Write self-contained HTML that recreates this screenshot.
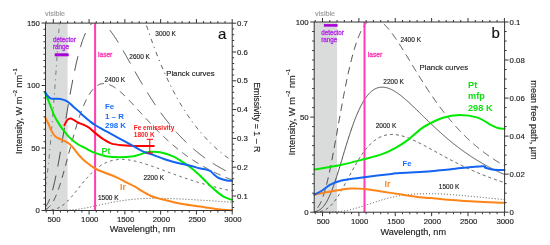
<!DOCTYPE html><html><head><meta charset="utf-8"><style>html,body{margin:0;padding:0;background:#fff;width:550px;height:245px;overflow:hidden}svg{display:block}text{font-family:"Liberation Sans",sans-serif}</style></head><body>
<div style="will-change:transform"><svg width="550" height="245" viewBox="0 0 550 245">
<defs><clipPath id="ca"><rect x="45.5" y="23.1" width="186.7" height="187.4"/></clipPath>
<clipPath id="cb"><rect x="314.2" y="22.0" width="190.40000000000003" height="190.2"/></clipPath></defs>
<rect x="45.5" y="23.1" width="22.11" height="187.4" fill="#dadcdc"/>
<g clip-path="url(#ca)" fill="none" stroke="#383838" stroke-width="0.9">
<path d="M45.5,186.45 L45.87,184.04 L46.25,181.5 L46.62,178.81 L46.99,175.97 L47.37,172.99 L47.74,169.87 L48.12,166.61 L48.49,163.21 L48.86,159.67 L49.24,156 L49.61,152.2 L49.98,148.28 L50.36,144.23 L50.73,140.06 L51.1,135.78 L51.48,131.39 L51.85,126.89 L52.23,122.3 L52.6,117.61 L52.97,112.84 L53.35,107.98 L53.72,103.05 L54.09,98.05 L54.47,92.99 L54.84,87.86 L55.21,82.69 L55.59,77.47 L55.96,72.21 L56.34,66.91 L56.71,61.59 L57.08,56.25 L57.46,50.89 L57.83,45.52 L58.2,40.15 L58.58,34.77 L58.95,29.4 L59.33,24.05 L59.57,20.49" stroke-dasharray="4.5 4 1.2 4.3" stroke="#707070"/><path d="M144.89,20.48 L145.26,21.64 L145.64,22.79 L146.01,23.94 L146.39,25.08 L146.76,26.22 L147.13,27.34 L147.51,28.46 L147.88,29.58 L148.25,30.68 L148.63,31.78 L149,32.88 L149.37,33.97 L149.75,35.05 L150.12,36.12 L150.5,37.19 L150.87,38.25 L151.24,39.3 L151.62,40.35 L151.99,41.39 L152.36,42.43 L152.74,43.46 L153.11,44.48 L153.48,45.49 L153.86,46.5 L154.23,47.51 L154.61,48.5 L154.98,49.49 L155.35,50.48 L155.73,51.46 L156.1,52.43 L156.47,53.39 L156.85,54.35 L157.22,55.31 L157.59,56.25 L157.97,57.19 L158.34,58.13 L158.72,59.06 L159.09,59.98 L159.46,60.9 L159.84,61.81 L160.21,62.71 L160.58,63.61 L160.96,64.51 L161.33,65.4 L161.7,66.28 L162.08,67.15 L162.45,68.03 L162.83,68.89 L163.2,69.75 L163.57,70.6 L163.95,71.45 L164.32,72.29 L164.69,73.13 L165.07,73.96 L165.44,74.79 L165.82,75.61 L166.19,76.42 L166.56,77.23 L166.94,78.04 L167.31,78.84 L167.68,79.63 L168.06,80.42 L168.43,81.2 L168.8,81.98 L169.18,82.76 L169.55,83.52 L169.93,84.29 L170.3,85.05 L170.67,85.8 L171.05,86.55 L171.42,87.29 L171.79,88.03 L172.17,88.76 L172.54,89.49 L172.91,90.21 L173.29,90.93 L173.66,91.64 L174.04,92.35 L174.41,93.06 L174.78,93.76 L175.16,94.45 L175.53,95.14 L175.9,95.83 L176.28,96.51 L176.65,97.18 L177.02,97.86 L177.4,98.52 L177.77,99.19 L178.15,99.85 L178.52,100.5 L178.89,101.15 L179.27,101.8 L179.64,102.44 L180.01,103.07 L180.39,103.71 L180.76,104.33 L181.13,104.96 L181.51,105.58 L181.88,106.19 L182.26,106.81 L182.63,107.41 L183,108.02 L183.38,108.62 L183.75,109.21 L184.12,109.8 L184.5,110.39 L184.87,110.98 L185.24,111.56 L185.62,112.13 L185.99,112.7 L186.37,113.27 L186.74,113.84 L187.11,114.4 L187.49,114.95 L187.86,115.51 L188.23,116.06 L188.61,116.6 L188.98,117.14 L189.35,117.68 L189.73,118.22 L190.1,118.75 L190.48,119.28 L190.85,119.8 L191.22,120.32 L191.6,120.84 L191.97,121.35 L192.34,121.87 L192.72,122.37 L193.09,122.88 L193.47,123.38 L193.84,123.87 L194.21,124.37 L194.59,124.86 L194.96,125.35 L195.33,125.83 L195.71,126.31 L196.08,126.79 L196.45,127.26 L196.83,127.73 L197.2,128.2 L197.58,128.67 L197.95,129.13 L198.32,129.59 L198.7,130.05 L199.07,130.5 L199.44,130.95 L199.82,131.4 L200.19,131.84 L200.56,132.28 L200.94,132.72 L201.31,133.16 L201.69,133.59 L202.06,134.02 L202.43,134.44 L202.81,134.87 L203.18,135.29 L203.55,135.71 L203.93,136.12 L204.3,136.54 L204.67,136.95 L205.05,137.36 L205.42,137.76 L205.8,138.16 L206.17,138.56 L206.54,138.96 L206.92,139.35 L207.29,139.75 L207.66,140.14 L208.04,140.52 L208.41,140.91 L208.78,141.29 L209.16,141.67 L209.53,142.05 L209.91,142.42 L210.28,142.79 L210.65,143.16 L211.03,143.53 L211.4,143.89 L211.77,144.26 L212.15,144.62 L212.52,144.97 L212.89,145.33 L213.27,145.68 L213.64,146.03 L214.02,146.38 L214.39,146.73 L214.76,147.07 L215.14,147.42 L215.51,147.76 L215.88,148.09 L216.26,148.43 L216.63,148.76 L217,149.09 L217.38,149.42 L217.75,149.75 L218.13,150.07 L218.5,150.4 L218.87,150.72 L219.25,151.04 L219.62,151.35 L219.99,151.67 L220.37,151.98 L220.74,152.29 L221.12,152.6 L221.49,152.91 L221.86,153.21 L222.24,153.52 L222.61,153.82 L222.98,154.12 L223.36,154.41 L223.73,154.71 L224.1,155 L224.48,155.29 L224.85,155.58 L225.23,155.87 L225.6,156.16 L225.97,156.44 L226.35,156.72 L226.72,157 L227.09,157.28 L227.47,157.56 L227.84,157.84 L228.21,158.11 L228.59,158.38 L228.96,158.65 L229.34,158.92 L229.71,159.19 L230.08,159.45 L230.46,159.72 L230.83,159.98 L231.2,160.24 L231.58,160.5 L231.95,160.76 L232.2,160.93" stroke-dasharray="4.5 4 1.2 4.3" stroke-dashoffset="8.62"/>
<path d="M45.5,206.87 L45.87,206.41 L46.25,205.9 L46.62,205.36 L46.99,204.77 L47.37,204.13 L47.74,203.45 L48.12,202.72 L48.49,201.94 L48.86,201.11 L49.24,200.23 L49.61,199.3 L49.98,198.32 L50.36,197.28 L50.73,196.2 L51.1,195.06 L51.48,193.86 L51.85,192.62 L52.23,191.32 L52.6,189.97 L52.97,188.57 L53.35,187.12 L53.72,185.62 L54.09,184.07 L54.47,182.48 L54.84,180.84 L55.21,179.15 L55.59,177.42 L55.96,175.64 L56.34,173.83 L56.71,171.97 L57.08,170.08 L57.46,168.15 L57.83,166.18 L58.2,164.19 L58.58,162.16 L58.95,160.1 L59.33,158.02 L59.7,155.91 L60.07,153.77 L60.45,151.62 L60.82,149.45 L61.19,147.25 L61.57,145.05 L61.94,142.82 L62.31,140.59 L62.69,138.35 L63.06,136.1 L63.44,133.84 L63.81,131.57 L64.18,129.31 L64.56,127.04 L64.93,124.78 L65.3,122.51 L65.68,120.25 L66.05,118 L66.42,115.75 L66.8,113.51 L67.17,111.29 L67.55,109.07 L67.92,106.87 L68.29,104.68 L68.67,102.51 L69.04,100.35 L69.41,98.21 L69.79,96.09 L70.16,93.99 L70.53,91.92 L70.91,89.86 L71.28,87.83 L71.66,85.82 L72.03,83.84 L72.4,81.88 L72.78,79.96 L73.15,78.05 L73.52,76.18 L73.9,74.33 L74.27,72.52 L74.64,70.73 L75.02,68.98 L75.39,67.25 L75.77,65.56 L76.14,63.9 L76.51,62.27 L76.89,60.67 L77.26,59.1 L77.63,57.57 L78.01,56.07 L78.38,54.6 L78.75,53.17 L79.13,51.77 L79.5,50.4 L79.88,49.07 L80.25,47.77 L80.62,46.51 L81,45.28 L81.37,44.08 L81.74,42.91 L82.12,41.78 L82.49,40.68 L82.86,39.62 L83.24,38.59 L83.61,37.59 L83.99,36.62 L84.36,35.69 L84.73,34.79 L85.11,33.92 L85.48,33.08 L85.85,32.27 L86.23,31.5 L86.6,30.75 L86.98,30.04 L87.35,29.36 L87.72,28.7 L88.1,28.08 L88.47,27.49 L88.84,26.92 L89.22,26.39 L89.59,25.88 L89.96,25.4 L90.34,24.95 L90.71,24.52 L91.09,24.12 L91.46,23.75 L91.83,23.41 L92.21,23.09 L92.58,22.79 L92.95,22.52 L93.33,22.28 L93.7,22.06 L94.07,21.86 L94.45,21.69 L94.82,21.54 L95.2,21.41 L95.57,21.3 L95.94,21.22 L96.32,21.16 L96.69,21.11 L97.06,21.09 L97.44,21.09 L97.81,21.11 L98.18,21.15 L98.56,21.21 L98.93,21.29 L99.31,21.38 L99.68,21.5 L100.05,21.63 L100.43,21.77 L100.8,21.94 L101.17,22.12 L101.55,22.32 L101.92,22.53 L102.29,22.76 L102.67,23 L103.04,23.26 L103.42,23.54 L103.79,23.82 L104.16,24.12 L104.54,24.44 L104.91,24.77 L105.28,25.11 L105.66,25.46 L106.03,25.82 L106.4,26.2 L106.78,26.59 L107.15,26.99 L107.53,27.4 L107.9,27.82 L108.27,28.25 L108.65,28.69 L109.02,29.14 L109.39,29.6 L109.77,30.07 L110.14,30.55 L110.51,31.04 L110.89,31.52 L111.26,32.01 L111.64,32.52 L112.01,33.02 L112.38,33.54 L112.76,34.06 L113.13,34.59 L113.5,35.13 L113.88,35.67 L114.25,36.22 L114.63,36.78 L115,37.34 L115.37,37.9 L115.75,38.48 L116.12,39.06 L116.49,39.64 L116.87,40.23 L117.24,40.82 L117.61,41.42 L117.99,42.02 L118.36,42.63 L118.74,43.23 L119.11,43.85 L119.48,44.47 L119.86,45.09 L120.23,45.71 L120.6,46.34 L120.98,46.97 L121.35,47.6 L121.72,48.24 L122.1,48.88 L122.47,49.52 L122.85,50.16 L123.22,50.81 L123.59,51.46 L123.97,52.1 L124.34,52.76 L124.71,53.41 L125.09,54.06 L125.46,54.72 L125.83,55.38 L126.21,56.03 L126.58,56.69 L126.96,57.35 L127.33,58.02 L127.7,58.68 L128.08,59.34 L128.45,60 L128.82,60.67 L129.2,61.33 L129.57,61.99 L129.94,62.66 L130.32,63.32 L130.69,63.99 L131.07,64.65 L131.44,65.31 L131.81,65.98 L132.19,66.64 L132.56,67.3 L132.93,67.97 L133.31,68.63 L133.68,69.29 L134.05,69.95 L134.43,70.61 L134.8,71.27 L135.18,71.93 L135.55,72.58 L135.92,73.24 L136.3,73.89 L136.67,74.55 L137.04,75.2 L137.42,75.85 L137.79,76.5 L138.16,77.15 L138.54,77.8 L138.91,78.44 L139.29,79.09 L139.66,79.73 L140.03,80.37 L140.41,81.01 L140.78,81.65 L141.15,82.29 L141.53,82.92 L141.9,83.56 L142.28,84.19 L142.65,84.82 L143.02,85.44 L143.4,86.07 L143.77,86.69 L144.14,87.32 L144.52,87.94 L144.89,88.55 L145.26,89.17 L145.64,89.78 L146.01,90.39 L146.39,91 L146.76,91.61 L147.13,92.22 L147.51,92.82 L147.88,93.42 L148.25,94.02 L148.63,94.62 L149,95.21 L149.37,95.8 L149.75,96.39 L150.12,96.98 L150.5,97.56 L150.87,98.15 L151.24,98.73 L151.62,99.31 L151.99,99.88 L152.36,100.45 L152.74,101.03 L153.11,101.59 L153.48,102.16 L153.86,102.72 L154.23,103.28 L154.61,103.84 L154.98,104.4 L155.35,104.95 L155.73,105.51 L156.1,106.05 L156.47,106.6 L156.85,107.14 L157.22,107.69 L157.59,108.23 L157.97,108.76 L158.34,109.3 L158.72,109.83 L159.09,110.36 L159.46,110.88 L159.84,111.41 L160.21,111.93 L160.58,112.45 L160.96,112.97 L161.33,113.48 L161.7,113.99 L162.08,114.5 L162.45,115.01 L162.83,115.51 L163.2,116.01 L163.57,116.51 L163.95,117.01 L164.32,117.5 L164.69,117.99 L165.07,118.48 L165.44,118.97 L165.82,119.46 L166.19,119.94 L166.56,120.42 L166.94,120.89 L167.31,121.37 L167.68,121.84 L168.06,122.31 L168.43,122.78 L168.8,123.24 L169.18,123.7 L169.55,124.16 L169.93,124.62 L170.3,125.08 L170.67,125.53 L171.05,125.98 L171.42,126.43 L171.79,126.87 L172.17,127.32 L172.54,127.76 L172.91,128.19 L173.29,128.63 L173.66,129.06 L174.04,129.5 L174.41,129.92 L174.78,130.35 L175.16,130.78 L175.53,131.2 L175.9,131.62 L176.28,132.03 L176.65,132.45 L177.02,132.86 L177.4,133.27 L177.77,133.68 L178.15,134.09 L178.52,134.49 L178.89,134.89 L179.27,135.29 L179.64,135.69 L180.01,136.09 L180.39,136.48 L180.76,136.87 L181.13,137.26 L181.51,137.64 L181.88,138.03 L182.26,138.41 L182.63,138.79 L183,139.17 L183.38,139.54 L183.75,139.92 L184.12,140.29 L184.5,140.66 L184.87,141.02 L185.24,141.39 L185.62,141.75 L185.99,142.11 L186.37,142.47 L186.74,142.83 L187.11,143.18 L187.49,143.54 L187.86,143.89 L188.23,144.24 L188.61,144.58 L188.98,144.93 L189.35,145.27 L189.73,145.61 L190.1,145.95 L190.48,146.29 L190.85,146.62 L191.22,146.96 L191.6,147.29 L191.97,147.62 L192.34,147.94 L192.72,148.27 L193.09,148.59 L193.47,148.92 L193.84,149.24 L194.21,149.55 L194.59,149.87 L194.96,150.19 L195.33,150.5 L195.71,150.81 L196.08,151.12 L196.45,151.43 L196.83,151.73 L197.2,152.04 L197.58,152.34 L197.95,152.64 L198.32,152.94 L198.7,153.23 L199.07,153.53 L199.44,153.82 L199.82,154.11 L200.19,154.4 L200.56,154.69 L200.94,154.98 L201.31,155.26 L201.69,155.55 L202.06,155.83 L202.43,156.11 L202.81,156.39 L203.18,156.67 L203.55,156.94 L203.93,157.21 L204.3,157.49 L204.67,157.76 L205.05,158.03 L205.42,158.29 L205.8,158.56 L206.17,158.82 L206.54,159.09 L206.92,159.35 L207.29,159.61 L207.66,159.87 L208.04,160.12 L208.41,160.38 L208.78,160.63 L209.16,160.88 L209.53,161.14 L209.91,161.39 L210.28,161.63 L210.65,161.88 L211.03,162.13 L211.4,162.37 L211.77,162.61 L212.15,162.85 L212.52,163.09 L212.89,163.33 L213.27,163.57 L213.64,163.8 L214.02,164.04 L214.39,164.27 L214.76,164.5 L215.14,164.73 L215.51,164.96 L215.88,165.19 L216.26,165.41 L216.63,165.64 L217,165.86 L217.38,166.08 L217.75,166.3 L218.13,166.52 L218.5,166.74 L218.87,166.96 L219.25,167.17 L219.62,167.39 L219.99,167.6 L220.37,167.81 L220.74,168.03 L221.12,168.24 L221.49,168.44 L221.86,168.65 L222.24,168.86 L222.61,169.06 L222.98,169.27 L223.36,169.47 L223.73,169.67 L224.1,169.87 L224.48,170.07 L224.85,170.27 L225.23,170.46 L225.6,170.66 L225.97,170.85 L226.35,171.05 L226.72,171.24 L227.09,171.43 L227.47,171.62 L227.84,171.81 L228.21,172 L228.59,172.19 L228.96,172.37 L229.34,172.56 L229.71,172.74 L230.08,172.92 L230.46,173.11 L230.83,173.29 L231.2,173.47 L231.58,173.64 L231.95,173.82 L232.2,173.94" stroke-dasharray="15 9.3" stroke-dashoffset="6.11"/>
<path d="M45.5,209.38 L45.87,209.22 L46.25,209.04 L46.62,208.85 L46.99,208.63 L47.37,208.39 L47.74,208.13 L48.12,207.85 L48.49,207.55 L48.86,207.22 L49.24,206.87 L49.61,206.49 L49.98,206.09 L50.36,205.66 L50.73,205.2 L51.1,204.72 L51.48,204.2 L51.85,203.66 L52.23,203.09 L52.6,202.49 L52.97,201.85 L53.35,201.19 L53.72,200.5 L54.09,199.78 L54.47,199.03 L54.84,198.24 L55.21,197.43 L55.59,196.59 L55.96,195.72 L56.34,194.82 L56.71,193.9 L57.08,192.94 L57.46,191.96 L57.83,190.95 L58.2,189.92 L58.58,188.86 L58.95,187.77 L59.33,186.66 L59.7,185.53 L60.07,184.38 L60.45,183.2 L60.82,182 L61.19,180.79 L61.57,179.55 L61.94,178.3 L62.31,177.03 L62.69,175.75 L63.06,174.45 L63.44,173.13 L63.81,171.81 L64.18,170.47 L64.56,169.12 L64.93,167.76 L65.3,166.39 L65.68,165.02 L66.05,163.64 L66.42,162.25 L66.8,160.85 L67.17,159.46 L67.55,158.06 L67.92,156.66 L68.29,155.26 L68.67,153.85 L69.04,152.45 L69.41,151.05 L69.79,149.66 L70.16,148.26 L70.53,146.87 L70.91,145.49 L71.28,144.11 L71.66,142.74 L72.03,141.37 L72.4,140.02 L72.78,138.67 L73.15,137.33 L73.52,136 L73.9,134.69 L74.27,133.38 L74.64,132.09 L75.02,130.8 L75.39,129.53 L75.77,128.28 L76.14,127.04 L76.51,125.81 L76.89,124.59 L77.26,123.4 L77.63,122.21 L78.01,121.05 L78.38,119.9 L78.75,118.76 L79.13,117.65 L79.5,116.55 L79.88,115.46 L80.25,114.4 L80.62,113.35 L81,112.32 L81.37,111.31 L81.74,110.32 L82.12,109.35 L82.49,108.39 L82.86,107.46 L83.24,106.54 L83.61,105.64 L83.99,104.76 L84.36,103.9 L84.73,103.06 L85.11,102.24 L85.48,101.44 L85.85,100.65 L86.23,99.89 L86.6,99.14 L86.98,98.42 L87.35,97.71 L87.72,97.02 L88.1,96.35 L88.47,95.7 L88.84,95.07 L89.22,94.46 L89.59,93.87 L89.96,93.29 L90.34,92.74 L90.71,92.2 L91.09,91.68 L91.46,91.17 L91.83,90.69 L92.21,90.22 L92.58,89.77 L92.95,89.34 L93.33,88.93 L93.7,88.53 L94.07,88.15 L94.45,87.79 L94.82,87.44 L95.2,87.11 L95.57,86.79 L95.94,86.49 L96.32,86.21 L96.69,85.94 L97.06,85.69 L97.44,85.46 L97.81,85.23 L98.18,85.03 L98.56,84.83 L98.93,84.66 L99.31,84.49 L99.68,84.34 L100.05,84.21 L100.43,84.09 L100.8,83.98 L101.17,83.88 L101.55,83.8 L101.92,83.73 L102.29,83.67 L102.67,83.63 L103.04,83.59 L103.42,83.57 L103.79,83.56 L104.16,83.57 L104.54,83.58 L104.91,83.6 L105.28,83.64 L105.66,83.69 L106.03,83.74 L106.4,83.81 L106.78,83.89 L107.15,83.97 L107.53,84.07 L107.9,84.18 L108.27,84.29 L108.65,84.42 L109.02,84.55 L109.39,84.7 L109.77,84.85 L110.14,85.01 L110.51,85.17 L110.89,85.34 L111.26,85.52 L111.64,85.7 L112.01,85.89 L112.38,86.09 L112.76,86.3 L113.13,86.51 L113.5,86.73 L113.88,86.96 L114.25,87.19 L114.63,87.43 L115,87.67 L115.37,87.93 L115.75,88.18 L116.12,88.45 L116.49,88.72 L116.87,88.99 L117.24,89.27 L117.61,89.56 L117.99,89.85 L118.36,90.14 L118.74,90.44 L119.11,90.75 L119.48,91.06 L119.86,91.37 L120.23,91.69 L120.6,92.01 L120.98,92.34 L121.35,92.67 L121.72,93 L122.1,93.34 L122.47,93.68 L122.85,94.03 L123.22,94.38 L123.59,94.73 L123.97,95.08 L124.34,95.44 L124.71,95.8 L125.09,96.16 L125.46,96.53 L125.83,96.9 L126.21,97.27 L126.58,97.65 L126.96,98.02 L127.33,98.4 L127.7,98.78 L128.08,99.16 L128.45,99.55 L128.82,99.93 L129.2,100.32 L129.57,100.71 L129.94,101.1 L130.32,101.5 L130.69,101.89 L131.07,102.29 L131.44,102.69 L131.81,103.08 L132.19,103.48 L132.56,103.89 L132.93,104.29 L133.31,104.69 L133.68,105.1 L134.05,105.5 L134.43,105.91 L134.8,106.31 L135.18,106.72 L135.55,107.13 L135.92,107.54 L136.3,107.94 L136.67,108.35 L137.04,108.76 L137.42,109.17 L137.79,109.58 L138.16,109.99 L138.54,110.41 L138.91,110.82 L139.29,111.23 L139.66,111.64 L140.03,112.05 L140.41,112.46 L140.78,112.87 L141.15,113.28 L141.53,113.69 L141.9,114.1 L142.28,114.51 L142.65,114.92 L143.02,115.33 L143.4,115.74 L143.77,116.15 L144.14,116.56 L144.52,116.97 L144.89,117.37 L145.26,117.78 L145.64,118.19 L146.01,118.59 L146.39,119 L146.76,119.4 L147.13,119.81 L147.51,120.21 L147.88,120.61 L148.25,121.01 L148.63,121.41 L149,121.81 L149.37,122.21 L149.75,122.61 L150.12,123.01 L150.5,123.41 L150.87,123.8 L151.24,124.2 L151.62,124.59 L151.99,124.98 L152.36,125.37 L152.74,125.76 L153.11,126.15 L153.48,126.54 L153.86,126.93 L154.23,127.32 L154.61,127.7 L154.98,128.09 L155.35,128.47 L155.73,128.85 L156.1,129.23 L156.47,129.61 L156.85,129.99 L157.22,130.37 L157.59,130.74 L157.97,131.12 L158.34,131.49 L158.72,131.86 L159.09,132.23 L159.46,132.6 L159.84,132.97 L160.21,133.34 L160.58,133.7 L160.96,134.07 L161.33,134.43 L161.7,134.79 L162.08,135.15 L162.45,135.51 L162.83,135.87 L163.2,136.23 L163.57,136.58 L163.95,136.93 L164.32,137.29 L164.69,137.64 L165.07,137.99 L165.44,138.33 L165.82,138.68 L166.19,139.03 L166.56,139.37 L166.94,139.71 L167.31,140.05 L167.68,140.39 L168.06,140.73 L168.43,141.07 L168.8,141.41 L169.18,141.74 L169.55,142.07 L169.93,142.4 L170.3,142.73 L170.67,143.06 L171.05,143.39 L171.42,143.71 L171.79,144.04 L172.17,144.36 L172.54,144.68 L172.91,145 L173.29,145.32 L173.66,145.64 L174.04,145.95 L174.41,146.27 L174.78,146.58 L175.16,146.89 L175.53,147.2 L175.9,147.51 L176.28,147.82 L176.65,148.12 L177.02,148.43 L177.4,148.73 L177.77,149.03 L178.15,149.33 L178.52,149.63 L178.89,149.93 L179.27,150.22 L179.64,150.52 L180.01,150.81 L180.39,151.1 L180.76,151.39 L181.13,151.68 L181.51,151.97 L181.88,152.25 L182.26,152.54 L182.63,152.82 L183,153.1 L183.38,153.38 L183.75,153.66 L184.12,153.94 L184.5,154.22 L184.87,154.49 L185.24,154.77 L185.62,155.04 L185.99,155.31 L186.37,155.58 L186.74,155.85 L187.11,156.12 L187.49,156.38 L187.86,156.65 L188.23,156.91 L188.61,157.17 L188.98,157.43 L189.35,157.69 L189.73,157.95 L190.1,158.2 L190.48,158.46 L190.85,158.71 L191.22,158.97 L191.6,159.22 L191.97,159.47 L192.34,159.72 L192.72,159.96 L193.09,160.21 L193.47,160.45 L193.84,160.7 L194.21,160.94 L194.59,161.18 L194.96,161.42 L195.33,161.66 L195.71,161.9 L196.08,162.13 L196.45,162.37 L196.83,162.6 L197.2,162.83 L197.58,163.07 L197.95,163.3 L198.32,163.53 L198.7,163.75 L199.07,163.98 L199.44,164.21 L199.82,164.43 L200.19,164.65 L200.56,164.87 L200.94,165.1 L201.31,165.31 L201.69,165.53 L202.06,165.75 L202.43,165.97 L202.81,166.18 L203.18,166.4 L203.55,166.61 L203.93,166.82 L204.3,167.03 L204.67,167.24 L205.05,167.45 L205.42,167.66 L205.8,167.86 L206.17,168.07 L206.54,168.27 L206.92,168.47 L207.29,168.68 L207.66,168.88 L208.04,169.08 L208.41,169.27 L208.78,169.47 L209.16,169.67 L209.53,169.86 L209.91,170.06 L210.28,170.25 L210.65,170.44 L211.03,170.64 L211.4,170.83 L211.77,171.02 L212.15,171.2 L212.52,171.39 L212.89,171.58 L213.27,171.76 L213.64,171.95 L214.02,172.13 L214.39,172.31 L214.76,172.49 L215.14,172.67 L215.51,172.85 L215.88,173.03 L216.26,173.21 L216.63,173.39 L217,173.56 L217.38,173.74 L217.75,173.91 L218.13,174.08 L218.5,174.26 L218.87,174.43 L219.25,174.6 L219.62,174.77 L219.99,174.93 L220.37,175.1 L220.74,175.27 L221.12,175.43 L221.49,175.6 L221.86,175.76 L222.24,175.93 L222.61,176.09 L222.98,176.25 L223.36,176.41 L223.73,176.57 L224.1,176.73 L224.48,176.89 L224.85,177.04 L225.23,177.2 L225.6,177.35 L225.97,177.51 L226.35,177.66 L226.72,177.81 L227.09,177.97 L227.47,178.12 L227.84,178.27 L228.21,178.42 L228.59,178.57 L228.96,178.71 L229.34,178.86 L229.71,179.01 L230.08,179.15 L230.46,179.3 L230.83,179.44 L231.2,179.59 L231.58,179.73 L231.95,179.87 L232.2,179.96" stroke-dasharray="7 5.5" stroke-dashoffset="0.79"/>
<path d="M45.5,210.45 L45.87,210.44 L46.25,210.43 L46.62,210.41 L46.99,210.4 L47.37,210.38 L47.74,210.36 L48.12,210.34 L48.49,210.32 L48.86,210.29 L49.24,210.26 L49.61,210.22 L49.98,210.19 L50.36,210.14 L50.73,210.1 L51.1,210.05 L51.48,210 L51.85,209.94 L52.23,209.87 L52.6,209.81 L52.97,209.73 L53.35,209.65 L53.72,209.56 L54.09,209.47 L54.47,209.37 L54.84,209.27 L55.21,209.16 L55.59,209.04 L55.96,208.91 L56.34,208.78 L56.71,208.64 L57.08,208.49 L57.46,208.34 L57.83,208.17 L58.2,208 L58.58,207.82 L58.95,207.63 L59.33,207.44 L59.7,207.23 L60.07,207.02 L60.45,206.8 L60.82,206.57 L61.19,206.33 L61.57,206.09 L61.94,205.83 L62.31,205.57 L62.69,205.3 L63.06,205.02 L63.44,204.73 L63.81,204.44 L64.18,204.13 L64.56,203.82 L64.93,203.5 L65.3,203.17 L65.68,202.84 L66.05,202.5 L66.42,202.15 L66.8,201.79 L67.17,201.43 L67.55,201.06 L67.92,200.69 L68.29,200.3 L68.67,199.91 L69.04,199.52 L69.41,199.12 L69.79,198.71 L70.16,198.3 L70.53,197.89 L70.91,197.47 L71.28,197.04 L71.66,196.61 L72.03,196.18 L72.4,195.74 L72.78,195.3 L73.15,194.85 L73.52,194.4 L73.9,193.95 L74.27,193.5 L74.64,193.04 L75.02,192.58 L75.39,192.12 L75.77,191.66 L76.14,191.19 L76.51,190.72 L76.89,190.26 L77.26,189.79 L77.63,189.32 L78.01,188.85 L78.38,188.38 L78.75,187.91 L79.13,187.44 L79.5,186.97 L79.88,186.5 L80.25,186.04 L80.62,185.57 L81,185.1 L81.37,184.64 L81.74,184.18 L82.12,183.72 L82.49,183.26 L82.86,182.8 L83.24,182.35 L83.61,181.89 L83.99,181.44 L84.36,181 L84.73,180.55 L85.11,180.11 L85.48,179.67 L85.85,179.24 L86.23,178.8 L86.6,178.38 L86.98,177.95 L87.35,177.53 L87.72,177.11 L88.1,176.7 L88.47,176.29 L88.84,175.89 L89.22,175.49 L89.59,175.09 L89.96,174.7 L90.34,174.31 L90.71,173.93 L91.09,173.55 L91.46,173.18 L91.83,172.81 L92.21,172.44 L92.58,172.08 L92.95,171.73 L93.33,171.38 L93.7,171.04 L94.07,170.7 L94.45,170.36 L94.82,170.04 L95.2,169.71 L95.57,169.39 L95.94,169.08 L96.32,168.77 L96.69,168.47 L97.06,168.17 L97.44,167.88 L97.81,167.6 L98.18,167.32 L98.56,167.04 L98.93,166.77 L99.31,166.51 L99.68,166.25 L100.05,165.99 L100.43,165.74 L100.8,165.5 L101.17,165.26 L101.55,165.03 L101.92,164.8 L102.29,164.58 L102.67,164.36 L103.04,164.15 L103.42,163.94 L103.79,163.74 L104.16,163.55 L104.54,163.35 L104.91,163.17 L105.28,162.99 L105.66,162.81 L106.03,162.64 L106.4,162.48 L106.78,162.32 L107.15,162.16 L107.53,162.01 L107.9,161.86 L108.27,161.72 L108.65,161.59 L109.02,161.45 L109.39,161.33 L109.77,161.2 L110.14,161.09 L110.51,160.97 L110.89,160.86 L111.26,160.76 L111.64,160.65 L112.01,160.55 L112.38,160.46 L112.76,160.37 L113.13,160.29 L113.5,160.2 L113.88,160.13 L114.25,160.05 L114.63,159.99 L115,159.92 L115.37,159.86 L115.75,159.8 L116.12,159.75 L116.49,159.7 L116.87,159.66 L117.24,159.61 L117.61,159.58 L117.99,159.54 L118.36,159.51 L118.74,159.48 L119.11,159.46 L119.48,159.44 L119.86,159.42 L120.23,159.41 L120.6,159.4 L120.98,159.39 L121.35,159.39 L121.72,159.39 L122.1,159.39 L122.47,159.4 L122.85,159.41 L123.22,159.42 L123.59,159.44 L123.97,159.45 L124.34,159.47 L124.71,159.5 L125.09,159.52 L125.46,159.55 L125.83,159.58 L126.21,159.62 L126.58,159.66 L126.96,159.7 L127.33,159.74 L127.7,159.78 L128.08,159.83 L128.45,159.88 L128.82,159.93 L129.2,159.98 L129.57,160.04 L129.94,160.1 L130.32,160.16 L130.69,160.22 L131.07,160.29 L131.44,160.35 L131.81,160.42 L132.19,160.49 L132.56,160.57 L132.93,160.64 L133.31,160.72 L133.68,160.79 L134.05,160.87 L134.43,160.96 L134.8,161.04 L135.18,161.13 L135.55,161.21 L135.92,161.3 L136.3,161.39 L136.67,161.48 L137.04,161.58 L137.42,161.67 L137.79,161.77 L138.16,161.86 L138.54,161.96 L138.91,162.06 L139.29,162.17 L139.66,162.27 L140.03,162.37 L140.41,162.48 L140.78,162.58 L141.15,162.69 L141.53,162.8 L141.9,162.91 L142.28,163.02 L142.65,163.13 L143.02,163.25 L143.4,163.36 L143.77,163.48 L144.14,163.59 L144.52,163.71 L144.89,163.83 L145.26,163.95 L145.64,164.07 L146.01,164.19 L146.39,164.31 L146.76,164.43 L147.13,164.55 L147.51,164.68 L147.88,164.8 L148.25,164.93 L148.63,165.05 L149,165.18 L149.37,165.31 L149.75,165.43 L150.12,165.56 L150.5,165.69 L150.87,165.82 L151.24,165.95 L151.62,166.08 L151.99,166.21 L152.36,166.34 L152.74,166.47 L153.11,166.6 L153.48,166.74 L153.86,166.87 L154.23,167 L154.61,167.14 L154.98,167.27 L155.35,167.4 L155.73,167.54 L156.1,167.67 L156.47,167.81 L156.85,167.94 L157.22,168.08 L157.59,168.22 L157.97,168.35 L158.34,168.49 L158.72,168.63 L159.09,168.76 L159.46,168.9 L159.84,169.04 L160.21,169.17 L160.58,169.31 L160.96,169.45 L161.33,169.59 L161.7,169.72 L162.08,169.86 L162.45,170 L162.83,170.14 L163.2,170.27 L163.57,170.41 L163.95,170.55 L164.32,170.69 L164.69,170.82 L165.07,170.96 L165.44,171.1 L165.82,171.24 L166.19,171.38 L166.56,171.51 L166.94,171.65 L167.31,171.79 L167.68,171.93 L168.06,172.06 L168.43,172.2 L168.8,172.34 L169.18,172.48 L169.55,172.61 L169.93,172.75 L170.3,172.89 L170.67,173.02 L171.05,173.16 L171.42,173.29 L171.79,173.43 L172.17,173.57 L172.54,173.7 L172.91,173.84 L173.29,173.97 L173.66,174.11 L174.04,174.24 L174.41,174.38 L174.78,174.51 L175.16,174.65 L175.53,174.78 L175.9,174.91 L176.28,175.05 L176.65,175.18 L177.02,175.31 L177.4,175.45 L177.77,175.58 L178.15,175.71 L178.52,175.84 L178.89,175.98 L179.27,176.11 L179.64,176.24 L180.01,176.37 L180.39,176.5 L180.76,176.63 L181.13,176.76 L181.51,176.89 L181.88,177.02 L182.26,177.15 L182.63,177.28 L183,177.4 L183.38,177.53 L183.75,177.66 L184.12,177.79 L184.5,177.91 L184.87,178.04 L185.24,178.17 L185.62,178.29 L185.99,178.42 L186.37,178.55 L186.74,178.67 L187.11,178.79 L187.49,178.92 L187.86,179.04 L188.23,179.17 L188.61,179.29 L188.98,179.41 L189.35,179.54 L189.73,179.66 L190.1,179.78 L190.48,179.9 L190.85,180.02 L191.22,180.14 L191.6,180.26 L191.97,180.38 L192.34,180.5 L192.72,180.62 L193.09,180.74 L193.47,180.86 L193.84,180.98 L194.21,181.1 L194.59,181.21 L194.96,181.33 L195.33,181.45 L195.71,181.56 L196.08,181.68 L196.45,181.79 L196.83,181.91 L197.2,182.02 L197.58,182.14 L197.95,182.25 L198.32,182.36 L198.7,182.48 L199.07,182.59 L199.44,182.7 L199.82,182.81 L200.19,182.93 L200.56,183.04 L200.94,183.15 L201.31,183.26 L201.69,183.37 L202.06,183.48 L202.43,183.59 L202.81,183.69 L203.18,183.8 L203.55,183.91 L203.93,184.02 L204.3,184.12 L204.67,184.23 L205.05,184.34 L205.42,184.44 L205.8,184.55 L206.17,184.65 L206.54,184.76 L206.92,184.86 L207.29,184.97 L207.66,185.07 L208.04,185.17 L208.41,185.28 L208.78,185.38 L209.16,185.48 L209.53,185.58 L209.91,185.68 L210.28,185.78 L210.65,185.88 L211.03,185.98 L211.4,186.08 L211.77,186.18 L212.15,186.28 L212.52,186.38 L212.89,186.48 L213.27,186.58 L213.64,186.67 L214.02,186.77 L214.39,186.87 L214.76,186.96 L215.14,187.06 L215.51,187.15 L215.88,187.25 L216.26,187.34 L216.63,187.44 L217,187.53 L217.38,187.62 L217.75,187.72 L218.13,187.81 L218.5,187.9 L218.87,187.99 L219.25,188.08 L219.62,188.18 L219.99,188.27 L220.37,188.36 L220.74,188.45 L221.12,188.54 L221.49,188.63 L221.86,188.71 L222.24,188.8 L222.61,188.89 L222.98,188.98 L223.36,189.07 L223.73,189.15 L224.1,189.24 L224.48,189.33 L224.85,189.41 L225.23,189.5 L225.6,189.58 L225.97,189.67 L226.35,189.75 L226.72,189.84 L227.09,189.92 L227.47,190 L227.84,190.09 L228.21,190.17 L228.59,190.25 L228.96,190.33 L229.34,190.41 L229.71,190.5 L230.08,190.58 L230.46,190.66 L230.83,190.74 L231.2,190.82 L231.58,190.9 L231.95,190.98 L232.2,191.03" stroke-dasharray="2.5 3.5"/>
<path d="M45.5,210.5 L45.87,210.5 L46.25,210.5 L46.62,210.5 L46.99,210.5 L47.37,210.5 L47.74,210.5 L48.12,210.5 L48.49,210.5 L48.86,210.5 L49.24,210.5 L49.61,210.5 L49.98,210.5 L50.36,210.5 L50.73,210.5 L51.1,210.5 L51.48,210.5 L51.85,210.5 L52.23,210.5 L52.6,210.49 L52.97,210.49 L53.35,210.49 L53.72,210.49 L54.09,210.49 L54.47,210.49 L54.84,210.49 L55.21,210.49 L55.59,210.48 L55.96,210.48 L56.34,210.48 L56.71,210.48 L57.08,210.47 L57.46,210.47 L57.83,210.47 L58.2,210.46 L58.58,210.46 L58.95,210.45 L59.33,210.45 L59.7,210.44 L60.07,210.44 L60.45,210.43 L60.82,210.43 L61.19,210.42 L61.57,210.41 L61.94,210.4 L62.31,210.39 L62.69,210.38 L63.06,210.37 L63.44,210.36 L63.81,210.35 L64.18,210.34 L64.56,210.33 L64.93,210.31 L65.3,210.3 L65.68,210.28 L66.05,210.27 L66.42,210.25 L66.8,210.23 L67.17,210.21 L67.55,210.19 L67.92,210.17 L68.29,210.15 L68.67,210.13 L69.04,210.11 L69.41,210.08 L69.79,210.06 L70.16,210.03 L70.53,210 L70.91,209.98 L71.28,209.95 L71.66,209.92 L72.03,209.88 L72.4,209.85 L72.78,209.82 L73.15,209.78 L73.52,209.75 L73.9,209.71 L74.27,209.67 L74.64,209.63 L75.02,209.59 L75.39,209.55 L75.77,209.51 L76.14,209.47 L76.51,209.42 L76.89,209.37 L77.26,209.33 L77.63,209.28 L78.01,209.23 L78.38,209.18 L78.75,209.13 L79.13,209.08 L79.5,209.02 L79.88,208.97 L80.25,208.91 L80.62,208.86 L81,208.8 L81.37,208.74 L81.74,208.68 L82.12,208.62 L82.49,208.56 L82.86,208.49 L83.24,208.43 L83.61,208.37 L83.99,208.3 L84.36,208.24 L84.73,208.17 L85.11,208.1 L85.48,208.03 L85.85,207.96 L86.23,207.89 L86.6,207.82 L86.98,207.75 L87.35,207.68 L87.72,207.6 L88.1,207.53 L88.47,207.45 L88.84,207.38 L89.22,207.3 L89.59,207.23 L89.96,207.15 L90.34,207.07 L90.71,206.99 L91.09,206.92 L91.46,206.84 L91.83,206.76 L92.21,206.68 L92.58,206.6 L92.95,206.52 L93.33,206.43 L93.7,206.35 L94.07,206.27 L94.45,206.19 L94.82,206.11 L95.2,206.02 L95.57,205.94 L95.94,205.86 L96.32,205.78 L96.69,205.69 L97.06,205.61 L97.44,205.53 L97.81,205.44 L98.18,205.36 L98.56,205.28 L98.93,205.19 L99.31,205.11 L99.68,205.03 L100.05,204.94 L100.43,204.86 L100.8,204.77 L101.17,204.69 L101.55,204.61 L101.92,204.53 L102.29,204.44 L102.67,204.36 L103.04,204.28 L103.42,204.2 L103.79,204.11 L104.16,204.03 L104.54,203.95 L104.91,203.87 L105.28,203.79 L105.66,203.71 L106.03,203.63 L106.4,203.55 L106.78,203.47 L107.15,203.39 L107.53,203.31 L107.9,203.23 L108.27,203.16 L108.65,203.08 L109.02,203 L109.39,202.92 L109.77,202.85 L110.14,202.77 L110.51,202.7 L110.89,202.62 L111.26,202.55 L111.64,202.47 L112.01,202.4 L112.38,202.33 L112.76,202.26 L113.13,202.18 L113.5,202.11 L113.88,202.04 L114.25,201.97 L114.63,201.9 L115,201.83 L115.37,201.77 L115.75,201.7 L116.12,201.63 L116.49,201.57 L116.87,201.5 L117.24,201.43 L117.61,201.37 L117.99,201.31 L118.36,201.24 L118.74,201.18 L119.11,201.12 L119.48,201.06 L119.86,201 L120.23,200.94 L120.6,200.88 L120.98,200.82 L121.35,200.76 L121.72,200.71 L122.1,200.65 L122.47,200.59 L122.85,200.54 L123.22,200.48 L123.59,200.43 L123.97,200.38 L124.34,200.33 L124.71,200.27 L125.09,200.22 L125.46,200.17 L125.83,200.13 L126.21,200.08 L126.58,200.03 L126.96,199.98 L127.33,199.94 L127.7,199.89 L128.08,199.84 L128.45,199.8 L128.82,199.76 L129.2,199.71 L129.57,199.67 L129.94,199.63 L130.32,199.59 L130.69,199.55 L131.07,199.51 L131.44,199.47 L131.81,199.43 L132.19,199.4 L132.56,199.36 L132.93,199.32 L133.31,199.29 L133.68,199.25 L134.05,199.22 L134.43,199.19 L134.8,199.16 L135.18,199.12 L135.55,199.09 L135.92,199.06 L136.3,199.03 L136.67,199 L137.04,198.97 L137.42,198.95 L137.79,198.92 L138.16,198.89 L138.54,198.87 L138.91,198.84 L139.29,198.82 L139.66,198.79 L140.03,198.77 L140.41,198.75 L140.78,198.73 L141.15,198.7 L141.53,198.68 L141.9,198.66 L142.28,198.64 L142.65,198.62 L143.02,198.61 L143.4,198.59 L143.77,198.57 L144.14,198.55 L144.52,198.54 L144.89,198.52 L145.26,198.51 L145.64,198.49 L146.01,198.48 L146.39,198.47 L146.76,198.45 L147.13,198.44 L147.51,198.43 L147.88,198.42 L148.25,198.41 L148.63,198.4 L149,198.39 L149.37,198.38 L149.75,198.37 L150.12,198.36 L150.5,198.35 L150.87,198.35 L151.24,198.34 L151.62,198.33 L151.99,198.33 L152.36,198.32 L152.74,198.32 L153.11,198.32 L153.48,198.31 L153.86,198.31 L154.23,198.31 L154.61,198.3 L154.98,198.3 L155.35,198.3 L155.73,198.3 L156.1,198.3 L156.47,198.3 L156.85,198.3 L157.22,198.3 L157.59,198.3 L157.97,198.3 L158.34,198.3 L158.72,198.31 L159.09,198.31 L159.46,198.31 L159.84,198.32 L160.21,198.32 L160.58,198.32 L160.96,198.33 L161.33,198.33 L161.7,198.34 L162.08,198.34 L162.45,198.35 L162.83,198.36 L163.2,198.36 L163.57,198.37 L163.95,198.38 L164.32,198.38 L164.69,198.39 L165.07,198.4 L165.44,198.41 L165.82,198.42 L166.19,198.43 L166.56,198.44 L166.94,198.45 L167.31,198.46 L167.68,198.47 L168.06,198.48 L168.43,198.49 L168.8,198.5 L169.18,198.51 L169.55,198.53 L169.93,198.54 L170.3,198.55 L170.67,198.56 L171.05,198.58 L171.42,198.59 L171.79,198.6 L172.17,198.62 L172.54,198.63 L172.91,198.64 L173.29,198.66 L173.66,198.67 L174.04,198.69 L174.41,198.7 L174.78,198.72 L175.16,198.73 L175.53,198.75 L175.9,198.77 L176.28,198.78 L176.65,198.8 L177.02,198.82 L177.4,198.83 L177.77,198.85 L178.15,198.87 L178.52,198.88 L178.89,198.9 L179.27,198.92 L179.64,198.94 L180.01,198.96 L180.39,198.97 L180.76,198.99 L181.13,199.01 L181.51,199.03 L181.88,199.05 L182.26,199.07 L182.63,199.09 L183,199.11 L183.38,199.13 L183.75,199.15 L184.12,199.17 L184.5,199.19 L184.87,199.21 L185.24,199.23 L185.62,199.25 L185.99,199.27 L186.37,199.29 L186.74,199.31 L187.11,199.33 L187.49,199.35 L187.86,199.37 L188.23,199.39 L188.61,199.41 L188.98,199.44 L189.35,199.46 L189.73,199.48 L190.1,199.5 L190.48,199.52 L190.85,199.55 L191.22,199.57 L191.6,199.59 L191.97,199.61 L192.34,199.63 L192.72,199.66 L193.09,199.68 L193.47,199.7 L193.84,199.72 L194.21,199.75 L194.59,199.77 L194.96,199.79 L195.33,199.82 L195.71,199.84 L196.08,199.86 L196.45,199.89 L196.83,199.91 L197.2,199.93 L197.58,199.96 L197.95,199.98 L198.32,200 L198.7,200.03 L199.07,200.05 L199.44,200.07 L199.82,200.1 L200.19,200.12 L200.56,200.15 L200.94,200.17 L201.31,200.19 L201.69,200.22 L202.06,200.24 L202.43,200.26 L202.81,200.29 L203.18,200.31 L203.55,200.34 L203.93,200.36 L204.3,200.39 L204.67,200.41 L205.05,200.43 L205.42,200.46 L205.8,200.48 L206.17,200.51 L206.54,200.53 L206.92,200.56 L207.29,200.58 L207.66,200.6 L208.04,200.63 L208.41,200.65 L208.78,200.68 L209.16,200.7 L209.53,200.73 L209.91,200.75 L210.28,200.78 L210.65,200.8 L211.03,200.83 L211.4,200.85 L211.77,200.87 L212.15,200.9 L212.52,200.92 L212.89,200.95 L213.27,200.97 L213.64,201 L214.02,201.02 L214.39,201.05 L214.76,201.07 L215.14,201.1 L215.51,201.12 L215.88,201.15 L216.26,201.17 L216.63,201.19 L217,201.22 L217.38,201.24 L217.75,201.27 L218.13,201.29 L218.5,201.32 L218.87,201.34 L219.25,201.37 L219.62,201.39 L219.99,201.41 L220.37,201.44 L220.74,201.46 L221.12,201.49 L221.49,201.51 L221.86,201.54 L222.24,201.56 L222.61,201.59 L222.98,201.61 L223.36,201.63 L223.73,201.66 L224.1,201.68 L224.48,201.71 L224.85,201.73 L225.23,201.76 L225.6,201.78 L225.97,201.8 L226.35,201.83 L226.72,201.85 L227.09,201.88 L227.47,201.9 L227.84,201.92 L228.21,201.95 L228.59,201.97 L228.96,202 L229.34,202.02 L229.71,202.04 L230.08,202.07 L230.46,202.09 L230.83,202.11 L231.2,202.14 L231.58,202.16 L231.95,202.18 L232.2,202.2" stroke-dasharray="1 2"/>
</g>
<rect x="94.1" y="23.1" width="2" height="187.4" fill="#ff3cb4"/>
<g fill="none" stroke-width="2" stroke-linejoin="round" stroke-linecap="round">
<path d="M45.2,117.4 C45.8,118.58 47.83,122.4 48.8,124.5 C49.77,126.6 49.9,127.98 51,130 C52.1,132.02 53.57,134.95 55.4,136.6 C57.23,138.25 59.97,138.88 62,139.9 C64.03,140.92 65.93,141.6 67.6,142.7 C69.27,143.8 70.53,144.95 72,146.5 C73.47,148.05 75.03,150.33 76.4,152 C77.77,153.67 78.95,155.13 80.2,156.5 C81.45,157.87 81.58,158.32 83.9,160.2 C86.22,162.08 91.15,165.92 94.1,167.8 C97.05,169.68 98.88,170.33 101.6,171.5 C104.32,172.67 107.83,173.78 110.4,174.8 C112.97,175.82 114.6,176.47 117,177.6 C119.4,178.73 121.8,180.1 124.8,181.6 C127.8,183.1 132.47,185.22 135,186.6 C137.53,187.98 137.33,188.33 140,189.9 C142.67,191.47 147.33,194.43 151,196 C154.67,197.57 158.33,198.3 162,199.3 C165.67,200.3 169.33,201.17 173,202 C176.67,202.83 179.5,203.53 184,204.3 C188.5,205.07 194.3,205.78 200,206.6 C205.7,207.42 212.83,208.58 218.2,209.2 C223.57,209.82 229.87,210.12 232.2,210.3" stroke="#ff8418"/>
<path d="M45.2,92.7 C45.8,94.17 47.55,98.37 48.8,101.5 C50.05,104.63 51.78,109.13 52.7,111.5 C53.62,113.87 53.3,113.72 54.3,115.7 C55.3,117.68 57.22,121.02 58.7,123.4 C60.18,125.78 61.53,127.8 63.2,130 C64.87,132.2 66.5,134.4 68.7,136.6 C70.9,138.8 73.47,141.18 76.4,143.2 C79.33,145.22 83.2,147.08 86.3,148.7 C89.4,150.32 91.72,151.65 95,152.9 C98.28,154.15 101.95,155.47 106,156.2 C110.05,156.93 114.7,157.3 119.3,157.3 C123.9,157.3 129.38,156.93 133.6,156.2 C137.82,155.47 141.7,153.65 144.6,152.9 C147.5,152.15 148.4,151.8 151,151.7 C153.6,151.6 156.52,151.53 160.2,152.3 C163.88,153.07 169.42,154.72 173.1,156.3 C176.78,157.88 179.6,160.1 182.3,161.8 C185,163.5 186.5,164.35 189.3,166.5 C192.1,168.65 196.1,171.97 199.1,174.7 C202.1,177.43 204.57,180.27 207.3,182.9 C210.03,185.53 212.78,188.22 215.5,190.5 C218.22,192.78 220.85,195.03 223.6,196.6 C226.35,198.17 230.6,199.35 232,199.9" stroke="#00ea00"/>
<path d="M64.4,125.2 C64.9,124.32 66.33,121.03 67.4,119.9 C68.47,118.77 69.58,118.28 70.8,118.4 C72.02,118.52 73.5,119.92 74.7,120.6 C75.9,121.28 76.43,121.77 78,122.5 C79.57,123.23 82.18,124.08 84.1,125 C86.02,125.92 87.68,126.68 89.5,128 C91.32,129.32 92.62,130.98 95,132.9 C97.38,134.82 101.05,137.72 103.8,139.5 C106.55,141.28 108.37,142.65 111.5,143.6 C114.63,144.55 118,144.8 122.6,145.2 C127.2,145.6 133.9,145.87 139.1,146 C144.3,146.13 151.35,146 153.8,146" stroke="#ff0000"/>
<path d="M45.2,92.2 C45.62,92.83 46.73,94.93 47.7,96 C48.67,97.07 49.53,98.13 51,98.6 C52.47,99.07 54.67,98.67 56.5,98.8 C58.33,98.93 60.15,98.93 62,99.4 C63.85,99.87 65.75,100.42 67.6,101.6 C69.45,102.78 71.18,104.83 73.1,106.5 C75.02,108.17 77.63,110.28 79.1,111.6 C80.57,112.92 80.15,112.83 81.9,114.4 C83.65,115.97 87.42,119.23 89.6,121 C91.78,122.77 92.27,123.3 95,125 C97.73,126.7 102.13,129.07 106,131.2 C109.87,133.33 113.78,135.38 118.2,137.8 C122.62,140.22 128.1,143.3 132.5,145.7 C136.9,148.1 141.82,150.9 144.6,152.2 C147.38,153.5 147.47,152.93 149.2,153.5 C150.93,154.07 152.42,154.65 155,155.6 C157.58,156.55 161.07,158.02 164.7,159.2 C168.33,160.38 173.8,161.88 176.8,162.7 C179.8,163.52 180.25,163.55 182.7,164.1 C185.15,164.65 188.77,165.32 191.5,166 C194.23,166.68 196.65,167.6 199.1,168.2 C201.55,168.8 204.28,169.12 206.2,169.6 C208.12,170.08 209.47,170.43 210.6,171.1 C211.73,171.77 211.65,172.45 213,173.6 C214.35,174.75 216.38,176.85 218.7,178 C221.02,179.15 224.68,180.03 226.9,180.5 C229.12,180.97 231.15,180.75 232,180.8" stroke="#1464f0"/>
</g>
<path d="M149.8,139.3 V153 M146.6,139.3 H153 M146.6,153 H153" stroke="#ff0000" stroke-width="1" fill="none"/>
<path d="M46.14,210.5 v2 M46.14,23.1 v-2 M53.3,210.5 v4 M53.3,23.1 v-4 M60.46,210.5 v2 M60.46,23.1 v-2 M67.61,210.5 v2 M67.61,23.1 v-2 M74.77,210.5 v2 M74.77,23.1 v-2 M81.92,210.5 v2 M81.92,23.1 v-2 M89.08,210.5 v4 M89.08,23.1 v-4 M96.24,210.5 v2 M96.24,23.1 v-2 M103.39,210.5 v2 M103.39,23.1 v-2 M110.55,210.5 v2 M110.55,23.1 v-2 M117.7,210.5 v2 M117.7,23.1 v-2 M124.86,210.5 v4 M124.86,23.1 v-4 M132.02,210.5 v2 M132.02,23.1 v-2 M139.17,210.5 v2 M139.17,23.1 v-2 M146.33,210.5 v2 M146.33,23.1 v-2 M153.48,210.5 v2 M153.48,23.1 v-2 M160.64,210.5 v4 M160.64,23.1 v-4 M167.8,210.5 v2 M167.8,23.1 v-2 M174.95,210.5 v2 M174.95,23.1 v-2 M182.11,210.5 v2 M182.11,23.1 v-2 M189.26,210.5 v2 M189.26,23.1 v-2 M196.42,210.5 v4 M196.42,23.1 v-4 M203.58,210.5 v2 M203.58,23.1 v-2 M210.73,210.5 v2 M210.73,23.1 v-2 M217.89,210.5 v2 M217.89,23.1 v-2 M225.04,210.5 v2 M225.04,23.1 v-2 M232.2,210.5 v4 M232.2,23.1 v-4 M45.5,210.5 h-4 M45.5,204.25 h-2 M45.5,198 h-2 M45.5,191.75 h-2 M45.5,185.5 h-2 M45.5,179.25 h-2 M45.5,173 h-2 M45.5,166.75 h-2 M45.5,160.5 h-2 M45.5,154.25 h-2 M45.5,148 h-4 M45.5,141.75 h-2 M45.5,135.5 h-2 M45.5,129.25 h-2 M45.5,123 h-2 M45.5,116.75 h-2 M45.5,110.5 h-2 M45.5,104.25 h-2 M45.5,98 h-2 M45.5,91.75 h-2 M45.5,85.5 h-4 M45.5,79.25 h-2 M45.5,73 h-2 M45.5,66.75 h-2 M45.5,60.5 h-2 M45.5,54.25 h-2 M45.5,48 h-2 M45.5,41.75 h-2 M45.5,35.5 h-2 M45.5,29.25 h-2 M45.5,23 h-4 M232.2,207.52 h2 M232.2,201.76 h2 M232.2,196 h4 M232.2,190.24 h2 M232.2,184.48 h2 M232.2,178.72 h2 M232.2,172.96 h2 M232.2,167.2 h4 M232.2,161.44 h2 M232.2,155.68 h2 M232.2,149.92 h2 M232.2,144.16 h2 M232.2,138.4 h4 M232.2,132.64 h2 M232.2,126.88 h2 M232.2,121.12 h2 M232.2,115.36 h2 M232.2,109.6 h4 M232.2,103.84 h2 M232.2,98.08 h2 M232.2,92.32 h2 M232.2,86.56 h2 M232.2,80.8 h4 M232.2,75.04 h2 M232.2,69.28 h2 M232.2,63.52 h2 M232.2,57.76 h2 M232.2,52 h4 M232.2,46.24 h2 M232.2,40.48 h2 M232.2,34.72 h2 M232.2,28.96 h2 M232.2,23.2 h4 " stroke="#333" stroke-width="1" fill="none"/>
<rect x="45.5" y="23.1" width="186.7" height="187.4" fill="none" stroke="#333" stroke-width="1"/>
<text x="39.9" y="213.1" text-anchor="end" style="font-size:7.8px;fill:#222;stroke:#222;stroke-width:0.15px">0</text>
<text x="39.9" y="150.6" text-anchor="end" style="font-size:7.8px;fill:#222;stroke:#222;stroke-width:0.15px">50</text>
<text x="39.9" y="88.1" text-anchor="end" style="font-size:7.8px;fill:#222;stroke:#222;stroke-width:0.15px">100</text>
<text x="39.9" y="25.6" text-anchor="end" style="font-size:7.8px;fill:#222;stroke:#222;stroke-width:0.15px">150</text>
<text x="237" y="198.6" style="font-size:7.8px;fill:#222;stroke:#222;stroke-width:0.15px">0.1</text>
<text x="237" y="169.8" style="font-size:7.8px;fill:#222;stroke:#222;stroke-width:0.15px">0.2</text>
<text x="237" y="141" style="font-size:7.8px;fill:#222;stroke:#222;stroke-width:0.15px">0.3</text>
<text x="237" y="112.2" style="font-size:7.8px;fill:#222;stroke:#222;stroke-width:0.15px">0.4</text>
<text x="237" y="83.4" style="font-size:7.8px;fill:#222;stroke:#222;stroke-width:0.15px">0.5</text>
<text x="237" y="54.6" style="font-size:7.8px;fill:#222;stroke:#222;stroke-width:0.15px">0.6</text>
<text x="237" y="25.8" style="font-size:7.8px;fill:#222;stroke:#222;stroke-width:0.15px">0.7</text>
<text x="54" y="221.8" text-anchor="middle" style="font-size:7.8px;fill:#222;stroke:#222;stroke-width:0.15px">500</text>
<text x="89.78" y="221.8" text-anchor="middle" style="font-size:7.8px;fill:#222;stroke:#222;stroke-width:0.15px">1000</text>
<text x="125.56" y="221.8" text-anchor="middle" style="font-size:7.8px;fill:#222;stroke:#222;stroke-width:0.15px">1500</text>
<text x="161.34" y="221.8" text-anchor="middle" style="font-size:7.8px;fill:#222;stroke:#222;stroke-width:0.15px">2000</text>
<text x="197.12" y="221.8" text-anchor="middle" style="font-size:7.8px;fill:#222;stroke:#222;stroke-width:0.15px">2500</text>
<text x="232.9" y="221.8" text-anchor="middle" style="font-size:7.8px;fill:#222;stroke:#222;stroke-width:0.15px">3000</text>
<text x="142.6" y="232.1" text-anchor="middle" style="font-size:9.15px;fill:#222;stroke:#222;stroke-width:0.15px">Wavelength, nm</text>
<text transform="translate(22,111.3) rotate(-90)" text-anchor="middle" style="font-size:9.2px;fill:#222;stroke:#222;stroke-width:0.15px">Intensity, W m<tspan dy="-5.3" style="font-size:5.6px">−2</tspan><tspan dy="5.3"> nm</tspan><tspan dy="-5.3" style="font-size:5.6px">−1</tspan></text>
<text transform="translate(253.8,117.3) rotate(90)" text-anchor="middle" style="font-size:8.8px;fill:#222;stroke:#222;stroke-width:0.15px">Emissivity = 1 – R</text>
<text x="45.1" y="16" style="font-size:7.2px;fill:#9a9a9a;stroke:#9a9a9a;stroke-width:0.15px">visible</text>
<text style="font-size:6.3px;fill:#b530e6;stroke-width:0.35px;stroke:#b530e6"><tspan x="53" y="41.5">detector</tspan><tspan x="53" y="48.6">range</tspan></text>
<rect x="54.7" y="53.3" width="14" height="3" fill="#a800d8"/>
<text x="98" y="57.3" style="font-size:6.6px;fill:#ff3cb4;stroke:#ff3cb4;stroke-width:0.35px">laser</text>
<text x="155.3" y="36" style="font-size:6.5px;fill:#222;stroke:#222;stroke-width:0.15px">3000 K</text>
<text x="129.3" y="59.3" style="font-size:6.5px;fill:#222;stroke:#222;stroke-width:0.15px">2600 K</text>
<text x="104.6" y="81.9" style="font-size:6.5px;fill:#222;stroke:#222;stroke-width:0.15px">2400 K</text>
<text x="143.4" y="180.3" style="font-size:6.5px;fill:#222;stroke:#222;stroke-width:0.15px">2200 K</text>
<text x="98" y="199.9" style="font-size:6.5px;fill:#222;stroke:#222;stroke-width:0.15px">1500 K</text>
<text x="166.2" y="76.2" style="font-size:7.8px;fill:#222;stroke:#222;stroke-width:0.15px">Planck curves</text>
<text x="218" y="38.8" style="font-size:15px;fill:#111;stroke:#111;stroke-width:0.15px">a</text>
<text style="font-size:7.9px;font-weight:bold;fill:#1a6cff"><tspan x="105" y="108.9">Fe</tspan><tspan x="105" y="118.6">1 – R</tspan><tspan x="105" y="127.9">298 K</tspan></text>
<text style="font-size:6.45px;font-weight:bold;fill:#ff1a1a"><tspan x="133.8" y="129.8">Fe emissivity</tspan><tspan x="133.8" y="137.3">1800 K</tspan></text>
<text x="101.6" y="154.1" style="font-size:8.8px;font-weight:bold;fill:#10e010">Pt</text>
<text x="120" y="190" style="font-size:8.6px;font-weight:bold;fill:#ff8418">Ir</text>
<rect x="314.2" y="22" width="22.85" height="190.2" fill="#dadcdc"/>
<g clip-path="url(#cb)" fill="none" stroke="#383838" stroke-width="0.9">
<path d="M314.2,210.72 L314.58,210.49 L314.96,210.25 L315.34,209.97 L315.72,209.67 L316.1,209.34 L316.48,208.98 L316.86,208.58 L317.25,208.15 L317.63,207.69 L318.01,207.19 L318.39,206.65 L318.77,206.07 L319.15,205.46 L319.53,204.8 L319.91,204.1 L320.29,203.36 L320.67,202.57 L321.05,201.74 L321.43,200.86 L321.81,199.94 L322.19,198.98 L322.57,197.96 L322.96,196.91 L323.34,195.8 L323.72,194.65 L324.1,193.46 L324.48,192.22 L324.86,190.93 L325.24,189.6 L325.62,188.23 L326,186.81 L326.38,185.35 L326.76,183.85 L327.14,182.31 L327.52,180.73 L327.9,179.11 L328.28,177.45 L328.66,175.75 L329.05,174.03 L329.43,172.26 L329.81,170.47 L330.19,168.64 L330.57,166.78 L330.95,164.9 L331.33,162.98 L331.71,161.05 L332.09,159.08 L332.47,157.1 L332.85,155.09 L333.23,153.07 L333.61,151.03 L333.99,148.97 L334.37,146.89 L334.76,144.81 L335.14,142.71 L335.52,140.6 L335.9,138.48 L336.28,136.36 L336.66,134.23 L337.04,132.1 L337.42,129.96 L337.8,127.82 L338.18,125.69 L338.56,123.55 L338.94,121.42 L339.32,119.29 L339.7,117.16 L340.08,115.05 L340.47,112.94 L340.85,110.84 L341.23,108.75 L341.61,106.67 L341.99,104.6 L342.37,102.55 L342.75,100.51 L343.13,98.49 L343.51,96.49 L343.89,94.5 L344.27,92.53 L344.65,90.58 L345.03,88.64 L345.41,86.73 L345.79,84.84 L346.17,82.98 L346.56,81.13 L346.94,79.31 L347.32,77.51 L347.7,75.74 L348.08,73.99 L348.46,72.27 L348.84,70.57 L349.22,68.9 L349.6,67.25 L349.98,65.64 L350.36,64.04 L350.74,62.48 L351.12,60.95 L351.5,59.44 L351.88,57.96 L352.27,56.51 L352.65,55.09 L353.03,53.7 L353.41,52.34 L353.79,51 L354.17,49.7 L354.55,48.42 L354.93,47.18 L355.31,45.96 L355.69,44.77 L356.07,43.62 L356.45,42.49 L356.83,41.39 L357.21,40.32 L357.59,39.28 L357.98,38.26 L358.36,37.28 L358.74,36.33 L359.12,35.4 L359.5,34.5 L359.88,33.63 L360.26,32.79 L360.64,31.98 L361.02,31.19 L361.4,30.43 L361.78,29.7 L362.16,29 L362.54,28.32 L362.92,27.67 L363.3,27.04 L363.68,26.45 L364.07,25.87 L364.45,25.32 L364.83,24.8 L365.21,24.31 L365.59,23.83 L365.97,23.38 L366.35,22.96 L366.73,22.56 L367.11,22.18 L367.49,21.83 L367.87,21.5 L368.25,21.19 L368.63,20.9 L369.01,20.64 L369.39,20.4 L369.78,20.17 L370.16,19.97 L370.54,19.79 L370.92,19.63 L371.3,19.49 L371.68,19.37 L372.06,19.27 L372.44,19.19 L372.82,19.13 L373.2,19.09 L373.58,19.06 L373.96,19.05 L374.34,19.06 L374.72,19.09 L375.1,19.13 L375.49,19.19 L375.87,19.27 L376.25,19.36 L376.63,19.47 L377.01,19.59 L377.39,19.73 L377.77,19.88 L378.15,20.05 L378.53,20.23 L378.91,20.43 L379.29,20.64 L379.67,20.86 L380.05,21.09 L380.43,21.34 L380.81,21.6 L381.2,21.86 L381.58,22.13 L381.96,22.42 L382.34,22.71 L382.72,23.02 L383.1,23.34 L383.48,23.66 L383.86,24 L384.24,24.35 L384.62,24.71 L385,25.08 L385.38,25.46 L385.76,25.85 L386.14,26.24 L386.52,26.65 L386.9,27.06 L387.29,27.48 L387.67,27.91 L388.05,28.35 L388.43,28.8 L388.81,29.25 L389.19,29.71 L389.57,30.18 L389.95,30.66 L390.33,31.14 L390.71,31.62 L391.09,32.12 L391.47,32.62 L391.85,33.12 L392.23,33.64 L392.61,34.15 L393,34.68 L393.38,35.21 L393.76,35.74 L394.14,36.28 L394.52,36.82 L394.9,37.37 L395.28,37.92 L395.66,38.47 L396.04,39.03 L396.42,39.6 L396.8,40.17 L397.18,40.74 L397.56,41.31 L397.94,41.89 L398.32,42.47 L398.71,43.06 L399.09,43.65 L399.47,44.24 L399.85,44.83 L400.23,45.43 L400.61,46.02 L400.99,46.62 L401.37,47.23 L401.75,47.83 L402.13,48.44 L402.51,49.05 L402.89,49.66 L403.27,50.27 L403.65,50.88 L404.03,51.5 L404.41,52.12 L404.8,52.74 L405.18,53.35 L405.56,53.97 L405.94,54.6 L406.32,55.22 L406.7,55.84 L407.08,56.46 L407.46,57.09 L407.84,57.71 L408.22,58.34 L408.6,58.97 L408.98,59.59 L409.36,60.22 L409.74,60.84 L410.12,61.47 L410.51,62.1 L410.89,62.72 L411.27,63.35 L411.65,63.98 L412.03,64.6 L412.41,65.23 L412.79,65.86 L413.17,66.48 L413.55,67.1 L413.93,67.73 L414.31,68.35 L414.69,68.98 L415.07,69.6 L415.45,70.22 L415.83,70.84 L416.22,71.46 L416.6,72.08 L416.98,72.7 L417.36,73.31 L417.74,73.93 L418.12,74.54 L418.5,75.16 L418.88,75.77 L419.26,76.38 L419.64,76.99 L420.02,77.6 L420.4,78.21 L420.78,78.82 L421.16,79.42 L421.54,80.02 L421.93,80.63 L422.31,81.23 L422.69,81.83 L423.07,82.42 L423.45,83.02 L423.83,83.62 L424.21,84.21 L424.59,84.8 L424.97,85.39 L425.35,85.98 L425.73,86.56 L426.11,87.15 L426.49,87.73 L426.87,88.31 L427.25,88.89 L427.63,89.47 L428.02,90.04 L428.4,90.62 L428.78,91.19 L429.16,91.76 L429.54,92.33 L429.92,92.89 L430.3,93.46 L430.68,94.02 L431.06,94.58 L431.44,95.14 L431.82,95.69 L432.2,96.25 L432.58,96.8 L432.96,97.35 L433.34,97.9 L433.73,98.44 L434.11,98.99 L434.49,99.53 L434.87,100.07 L435.25,100.61 L435.63,101.14 L436.01,101.68 L436.39,102.21 L436.77,102.74 L437.15,103.27 L437.53,103.79 L437.91,104.31 L438.29,104.84 L438.67,105.35 L439.05,105.87 L439.44,106.38 L439.82,106.9 L440.2,107.41 L440.58,107.91 L440.96,108.42 L441.34,108.92 L441.72,109.43 L442.1,109.92 L442.48,110.42 L442.86,110.92 L443.24,111.41 L443.62,111.9 L444,112.39 L444.38,112.87 L444.76,113.36 L445.14,113.84 L445.53,114.32 L445.91,114.8 L446.29,115.27 L446.67,115.75 L447.05,116.22 L447.43,116.69 L447.81,117.15 L448.19,117.62 L448.57,118.08 L448.95,118.54 L449.33,119 L449.71,119.45 L450.09,119.91 L450.47,120.36 L450.85,120.81 L451.24,121.26 L451.62,121.7 L452,122.14 L452.38,122.58 L452.76,123.02 L453.14,123.46 L453.52,123.89 L453.9,124.33 L454.28,124.76 L454.66,125.19 L455.04,125.61 L455.42,126.04 L455.8,126.46 L456.18,126.88 L456.56,127.29 L456.95,127.71 L457.33,128.12 L457.71,128.54 L458.09,128.95 L458.47,129.35 L458.85,129.76 L459.23,130.16 L459.61,130.56 L459.99,130.96 L460.37,131.36 L460.75,131.76 L461.13,132.15 L461.51,132.54 L461.89,132.93 L462.27,133.32 L462.65,133.7 L463.04,134.09 L463.42,134.47 L463.8,134.85 L464.18,135.23 L464.56,135.6 L464.94,135.97 L465.32,136.35 L465.7,136.72 L466.08,137.08 L466.46,137.45 L466.84,137.81 L467.22,138.18 L467.6,138.54 L467.98,138.9 L468.36,139.25 L468.75,139.61 L469.13,139.96 L469.51,140.31 L469.89,140.66 L470.27,141.01 L470.65,141.36 L471.03,141.7 L471.41,142.04 L471.79,142.38 L472.17,142.72 L472.55,143.06 L472.93,143.39 L473.31,143.73 L473.69,144.06 L474.07,144.39 L474.46,144.72 L474.84,145.04 L475.22,145.37 L475.6,145.69 L475.98,146.01 L476.36,146.33 L476.74,146.65 L477.12,146.96 L477.5,147.28 L477.88,147.59 L478.26,147.9 L478.64,148.21 L479.02,148.52 L479.4,148.83 L479.78,149.13 L480.17,149.43 L480.55,149.74 L480.93,150.04 L481.31,150.33 L481.69,150.63 L482.07,150.92 L482.45,151.22 L482.83,151.51 L483.21,151.8 L483.59,152.09 L483.97,152.38 L484.35,152.66 L484.73,152.95 L485.11,153.23 L485.49,153.51 L485.87,153.79 L486.26,154.07 L486.64,154.34 L487.02,154.62 L487.4,154.89 L487.78,155.17 L488.16,155.44 L488.54,155.71 L488.92,155.97 L489.3,156.24 L489.68,156.51 L490.06,156.77 L490.44,157.03 L490.82,157.29 L491.2,157.55 L491.58,157.81 L491.97,158.07 L492.35,158.32 L492.73,158.58 L493.11,158.83 L493.49,159.08 L493.87,159.33 L494.25,159.58 L494.63,159.83 L495.01,160.07 L495.39,160.32 L495.77,160.56 L496.15,160.8 L496.53,161.04 L496.91,161.28 L497.29,161.52 L497.68,161.76 L498.06,161.99 L498.44,162.23 L498.82,162.46 L499.2,162.69 L499.58,162.92 L499.96,163.15 L500.34,163.38 L500.72,163.61 L501.1,163.83 L501.48,164.06 L501.86,164.28 L502.24,164.5 L502.62,164.72 L503,164.94 L503.38,165.16 L503.77,165.38 L504.15,165.59 L504.4,165.74" stroke-dasharray="7.5 5" stroke-dashoffset="7.98"/>
<path d="M314.2,211.84 L314.58,211.78 L314.96,211.71 L315.34,211.63 L315.72,211.54 L316.1,211.44 L316.48,211.33 L316.86,211.2 L317.25,211.07 L317.63,210.92 L318.01,210.75 L318.39,210.58 L318.77,210.38 L319.15,210.17 L319.53,209.94 L319.91,209.69 L320.29,209.43 L320.67,209.14 L321.05,208.84 L321.43,208.51 L321.81,208.16 L322.19,207.79 L322.57,207.4 L322.96,206.99 L323.34,206.55 L323.72,206.09 L324.1,205.6 L324.48,205.09 L324.86,204.56 L325.24,204 L325.62,203.41 L326,202.8 L326.38,202.17 L326.76,201.51 L327.14,200.83 L327.52,200.12 L327.9,199.39 L328.28,198.63 L328.66,197.85 L329.05,197.04 L329.43,196.21 L329.81,195.36 L330.19,194.48 L330.57,193.59 L330.95,192.66 L331.33,191.72 L331.71,190.76 L332.09,189.78 L332.47,188.77 L332.85,187.75 L333.23,186.71 L333.61,185.65 L333.99,184.58 L334.37,183.48 L334.76,182.38 L335.14,181.25 L335.52,180.11 L335.9,178.96 L336.28,177.8 L336.66,176.62 L337.04,175.43 L337.42,174.23 L337.8,173.02 L338.18,171.81 L338.56,170.58 L338.94,169.34 L339.32,168.1 L339.7,166.86 L340.08,165.6 L340.47,164.35 L340.85,163.09 L341.23,161.82 L341.61,160.56 L341.99,159.29 L342.37,158.02 L342.75,156.75 L343.13,155.49 L343.51,154.22 L343.89,152.96 L344.27,151.69 L344.65,150.43 L345.03,149.18 L345.41,147.93 L345.79,146.68 L346.17,145.44 L346.56,144.21 L346.94,142.98 L347.32,141.76 L347.7,140.55 L348.08,139.34 L348.46,138.15 L348.84,136.96 L349.22,135.78 L349.6,134.61 L349.98,133.46 L350.36,132.31 L350.74,131.18 L351.12,130.05 L351.5,128.94 L351.88,127.84 L352.27,126.75 L352.65,125.68 L353.03,124.62 L353.41,123.57 L353.79,122.54 L354.17,121.52 L354.55,120.51 L354.93,119.52 L355.31,118.54 L355.69,117.58 L356.07,116.63 L356.45,115.7 L356.83,114.78 L357.21,113.88 L357.59,112.99 L357.98,112.12 L358.36,111.26 L358.74,110.42 L359.12,109.6 L359.5,108.79 L359.88,108 L360.26,107.22 L360.64,106.46 L361.02,105.71 L361.4,104.98 L361.78,104.27 L362.16,103.57 L362.54,102.89 L362.92,102.22 L363.3,101.57 L363.68,100.94 L364.07,100.32 L364.45,99.72 L364.83,99.13 L365.21,98.56 L365.59,98.01 L365.97,97.47 L366.35,96.94 L366.73,96.43 L367.11,95.94 L367.49,95.46 L367.87,94.99 L368.25,94.55 L368.63,94.11 L369.01,93.69 L369.39,93.29 L369.78,92.9 L370.16,92.52 L370.54,92.16 L370.92,91.81 L371.3,91.48 L371.68,91.16 L372.06,90.85 L372.44,90.56 L372.82,90.28 L373.2,90.01 L373.58,89.76 L373.96,89.52 L374.34,89.29 L374.72,89.08 L375.1,88.87 L375.49,88.68 L375.87,88.51 L376.25,88.34 L376.63,88.19 L377.01,88.04 L377.39,87.91 L377.77,87.79 L378.15,87.69 L378.53,87.59 L378.91,87.5 L379.29,87.43 L379.67,87.36 L380.05,87.31 L380.43,87.26 L380.81,87.23 L381.2,87.2 L381.58,87.17 L381.96,87.16 L382.34,87.16 L382.72,87.17 L383.1,87.18 L383.48,87.21 L383.86,87.24 L384.24,87.28 L384.62,87.33 L385,87.39 L385.38,87.46 L385.76,87.54 L386.14,87.62 L386.52,87.71 L386.9,87.81 L387.29,87.92 L387.67,88.03 L388.05,88.16 L388.43,88.28 L388.81,88.42 L389.19,88.56 L389.57,88.71 L389.95,88.87 L390.33,89.03 L390.71,89.2 L391.09,89.38 L391.47,89.56 L391.85,89.75 L392.23,89.94 L392.61,90.14 L393,90.34 L393.38,90.55 L393.76,90.77 L394.14,90.99 L394.52,91.22 L394.9,91.45 L395.28,91.68 L395.66,91.92 L396.04,92.17 L396.42,92.42 L396.8,92.67 L397.18,92.93 L397.56,93.19 L397.94,93.46 L398.32,93.73 L398.71,94.01 L399.09,94.28 L399.47,94.57 L399.85,94.85 L400.23,95.14 L400.61,95.43 L400.99,95.73 L401.37,96.03 L401.75,96.33 L402.13,96.64 L402.51,96.95 L402.89,97.26 L403.27,97.57 L403.65,97.89 L404.03,98.21 L404.41,98.53 L404.8,98.86 L405.18,99.19 L405.56,99.52 L405.94,99.85 L406.32,100.18 L406.7,100.52 L407.08,100.86 L407.46,101.2 L407.84,101.54 L408.22,101.88 L408.6,102.23 L408.98,102.57 L409.36,102.92 L409.74,103.27 L410.12,103.62 L410.51,103.98 L410.89,104.33 L411.27,104.69 L411.65,105.05 L412.03,105.4 L412.41,105.76 L412.79,106.12 L413.17,106.49 L413.55,106.85 L413.93,107.21 L414.31,107.58 L414.69,107.94 L415.07,108.31 L415.45,108.67 L415.83,109.04 L416.22,109.41 L416.6,109.78 L416.98,110.15 L417.36,110.52 L417.74,110.89 L418.12,111.26 L418.5,111.63 L418.88,112 L419.26,112.37 L419.64,112.74 L420.02,113.11 L420.4,113.48 L420.78,113.86 L421.16,114.23 L421.54,114.6 L421.93,114.97 L422.31,115.34 L422.69,115.72 L423.07,116.09 L423.45,116.46 L423.83,116.83 L424.21,117.2 L424.59,117.57 L424.97,117.94 L425.35,118.31 L425.73,118.68 L426.11,119.05 L426.49,119.42 L426.87,119.79 L427.25,120.16 L427.63,120.53 L428.02,120.9 L428.4,121.27 L428.78,121.63 L429.16,122 L429.54,122.37 L429.92,122.73 L430.3,123.1 L430.68,123.46 L431.06,123.82 L431.44,124.19 L431.82,124.55 L432.2,124.91 L432.58,125.27 L432.96,125.63 L433.34,125.99 L433.73,126.35 L434.11,126.71 L434.49,127.07 L434.87,127.42 L435.25,127.78 L435.63,128.13 L436.01,128.49 L436.39,128.84 L436.77,129.19 L437.15,129.54 L437.53,129.89 L437.91,130.24 L438.29,130.59 L438.67,130.94 L439.05,131.28 L439.44,131.63 L439.82,131.97 L440.2,132.32 L440.58,132.66 L440.96,133 L441.34,133.34 L441.72,133.68 L442.1,134.02 L442.48,134.36 L442.86,134.69 L443.24,135.03 L443.62,135.36 L444,135.7 L444.38,136.03 L444.76,136.36 L445.14,136.69 L445.53,137.02 L445.91,137.35 L446.29,137.67 L446.67,138 L447.05,138.32 L447.43,138.65 L447.81,138.97 L448.19,139.29 L448.57,139.61 L448.95,139.93 L449.33,140.25 L449.71,140.57 L450.09,140.88 L450.47,141.2 L450.85,141.51 L451.24,141.82 L451.62,142.13 L452,142.44 L452.38,142.75 L452.76,143.06 L453.14,143.36 L453.52,143.67 L453.9,143.97 L454.28,144.27 L454.66,144.58 L455.04,144.88 L455.42,145.18 L455.8,145.47 L456.18,145.77 L456.56,146.07 L456.95,146.36 L457.33,146.65 L457.71,146.95 L458.09,147.24 L458.47,147.53 L458.85,147.82 L459.23,148.1 L459.61,148.39 L459.99,148.67 L460.37,148.96 L460.75,149.24 L461.13,149.52 L461.51,149.8 L461.89,150.08 L462.27,150.36 L462.65,150.64 L463.04,150.91 L463.42,151.19 L463.8,151.46 L464.18,151.73 L464.56,152 L464.94,152.27 L465.32,152.54 L465.7,152.81 L466.08,153.07 L466.46,153.34 L466.84,153.6 L467.22,153.86 L467.6,154.13 L467.98,154.39 L468.36,154.65 L468.75,154.9 L469.13,155.16 L469.51,155.42 L469.89,155.67 L470.27,155.92 L470.65,156.18 L471.03,156.43 L471.41,156.68 L471.79,156.93 L472.17,157.18 L472.55,157.42 L472.93,157.67 L473.31,157.91 L473.69,158.16 L474.07,158.4 L474.46,158.64 L474.84,158.88 L475.22,159.12 L475.6,159.36 L475.98,159.59 L476.36,159.83 L476.74,160.06 L477.12,160.3 L477.5,160.53 L477.88,160.76 L478.26,160.99 L478.64,161.22 L479.02,161.45 L479.4,161.67 L479.78,161.9 L480.17,162.13 L480.55,162.35 L480.93,162.57 L481.31,162.79 L481.69,163.01 L482.07,163.23 L482.45,163.45 L482.83,163.67 L483.21,163.89 L483.59,164.1 L483.97,164.32 L484.35,164.53 L484.73,164.74 L485.11,164.96 L485.49,165.17 L485.87,165.38 L486.26,165.58 L486.64,165.79 L487.02,166 L487.4,166.2 L487.78,166.41 L488.16,166.61 L488.54,166.81 L488.92,167.02 L489.3,167.22 L489.68,167.42 L490.06,167.61 L490.44,167.81 L490.82,168.01 L491.2,168.2 L491.58,168.4 L491.97,168.59 L492.35,168.79 L492.73,168.98 L493.11,169.17 L493.49,169.36 L493.87,169.55 L494.25,169.74 L494.63,169.93 L495.01,170.11 L495.39,170.3 L495.77,170.48 L496.15,170.67 L496.53,170.85 L496.91,171.03 L497.29,171.21 L497.68,171.39 L498.06,171.57 L498.44,171.75 L498.82,171.93 L499.2,172.11 L499.58,172.28 L499.96,172.46 L500.34,172.63 L500.72,172.8 L501.1,172.98 L501.48,173.15 L501.86,173.32 L502.24,173.49 L502.62,173.66 L503,173.83 L503.38,174 L503.77,174.16 L504.15,174.33 L504.4,174.44"/>
<path d="M314.2,212.13 L314.58,212.12 L314.96,212.11 L315.34,212.09 L315.72,212.07 L316.1,212.04 L316.48,212.02 L316.86,211.99 L317.25,211.95 L317.63,211.92 L318.01,211.87 L318.39,211.83 L318.77,211.78 L319.15,211.72 L319.53,211.66 L319.91,211.59 L320.29,211.51 L320.67,211.43 L321.05,211.34 L321.43,211.24 L321.81,211.14 L322.19,211.02 L322.57,210.9 L322.96,210.77 L323.34,210.63 L323.72,210.48 L324.1,210.31 L324.48,210.14 L324.86,209.96 L325.24,209.77 L325.62,209.57 L326,209.35 L326.38,209.12 L326.76,208.88 L327.14,208.63 L327.52,208.37 L327.9,208.1 L328.28,207.81 L328.66,207.51 L329.05,207.2 L329.43,206.87 L329.81,206.53 L330.19,206.18 L330.57,205.82 L330.95,205.44 L331.33,205.05 L331.71,204.65 L332.09,204.23 L332.47,203.81 L332.85,203.37 L333.23,202.91 L333.61,202.45 L333.99,201.97 L334.37,201.49 L334.76,200.99 L335.14,200.48 L335.52,199.95 L335.9,199.42 L336.28,198.88 L336.66,198.32 L337.04,197.76 L337.42,197.18 L337.8,196.6 L338.18,196 L338.56,195.4 L338.94,194.79 L339.32,194.17 L339.7,193.54 L340.08,192.9 L340.47,192.26 L340.85,191.61 L341.23,190.96 L341.61,190.29 L341.99,189.62 L342.37,188.95 L342.75,188.27 L343.13,187.58 L343.51,186.89 L343.89,186.2 L344.27,185.5 L344.65,184.8 L345.03,184.1 L345.41,183.39 L345.79,182.68 L346.17,181.97 L346.56,181.26 L346.94,180.55 L347.32,179.83 L347.7,179.12 L348.08,178.4 L348.46,177.68 L348.84,176.97 L349.22,176.25 L349.6,175.54 L349.98,174.83 L350.36,174.12 L350.74,173.41 L351.12,172.7 L351.5,171.99 L351.88,171.29 L352.27,170.59 L352.65,169.9 L353.03,169.2 L353.41,168.51 L353.79,167.83 L354.17,167.15 L354.55,166.47 L354.93,165.8 L355.31,165.13 L355.69,164.47 L356.07,163.81 L356.45,163.16 L356.83,162.52 L357.21,161.88 L357.59,161.24 L357.98,160.61 L358.36,159.99 L358.74,159.38 L359.12,158.77 L359.5,158.16 L359.88,157.57 L360.26,156.98 L360.64,156.4 L361.02,155.82 L361.4,155.26 L361.78,154.7 L362.16,154.14 L362.54,153.6 L362.92,153.06 L363.3,152.53 L363.68,152.01 L364.07,151.49 L364.45,150.99 L364.83,150.49 L365.21,150 L365.59,149.51 L365.97,149.04 L366.35,148.57 L366.73,148.12 L367.11,147.66 L367.49,147.22 L367.87,146.79 L368.25,146.36 L368.63,145.95 L369.01,145.54 L369.39,145.13 L369.78,144.74 L370.16,144.36 L370.54,143.98 L370.92,143.61 L371.3,143.25 L371.68,142.9 L372.06,142.55 L372.44,142.22 L372.82,141.89 L373.2,141.57 L373.58,141.26 L373.96,140.95 L374.34,140.66 L374.72,140.37 L375.1,140.09 L375.49,139.81 L375.87,139.55 L376.25,139.29 L376.63,139.04 L377.01,138.8 L377.39,138.56 L377.77,138.34 L378.15,138.12 L378.53,137.9 L378.91,137.7 L379.29,137.5 L379.67,137.31 L380.05,137.13 L380.43,136.95 L380.81,136.78 L381.2,136.61 L381.58,136.45 L381.96,136.3 L382.34,136.15 L382.72,136.01 L383.1,135.87 L383.48,135.75 L383.86,135.62 L384.24,135.51 L384.62,135.4 L385,135.3 L385.38,135.2 L385.76,135.11 L386.14,135.03 L386.52,134.95 L386.9,134.88 L387.29,134.81 L387.67,134.75 L388.05,134.69 L388.43,134.64 L388.81,134.6 L389.19,134.56 L389.57,134.53 L389.95,134.5 L390.33,134.47 L390.71,134.46 L391.09,134.44 L391.47,134.43 L391.85,134.43 L392.23,134.43 L392.61,134.44 L393,134.45 L393.38,134.47 L393.76,134.49 L394.14,134.51 L394.52,134.54 L394.9,134.57 L395.28,134.61 L395.66,134.65 L396.04,134.7 L396.42,134.75 L396.8,134.8 L397.18,134.86 L397.56,134.92 L397.94,134.99 L398.32,135.06 L398.71,135.13 L399.09,135.21 L399.47,135.29 L399.85,135.37 L400.23,135.46 L400.61,135.55 L400.99,135.64 L401.37,135.74 L401.75,135.84 L402.13,135.95 L402.51,136.05 L402.89,136.16 L403.27,136.27 L403.65,136.39 L404.03,136.51 L404.41,136.63 L404.8,136.75 L405.18,136.88 L405.56,137.01 L405.94,137.14 L406.32,137.27 L406.7,137.41 L407.08,137.55 L407.46,137.69 L407.84,137.83 L408.22,137.98 L408.6,138.12 L408.98,138.27 L409.36,138.43 L409.74,138.58 L410.12,138.74 L410.51,138.89 L410.89,139.05 L411.27,139.21 L411.65,139.38 L412.03,139.54 L412.41,139.71 L412.79,139.88 L413.17,140.05 L413.55,140.22 L413.93,140.39 L414.31,140.57 L414.69,140.75 L415.07,140.92 L415.45,141.1 L415.83,141.28 L416.22,141.47 L416.6,141.65 L416.98,141.83 L417.36,142.02 L417.74,142.21 L418.12,142.39 L418.5,142.58 L418.88,142.77 L419.26,142.96 L419.64,143.16 L420.02,143.35 L420.4,143.54 L420.78,143.74 L421.16,143.93 L421.54,144.13 L421.93,144.33 L422.31,144.53 L422.69,144.72 L423.07,144.92 L423.45,145.12 L423.83,145.33 L424.21,145.53 L424.59,145.73 L424.97,145.93 L425.35,146.14 L425.73,146.34 L426.11,146.54 L426.49,146.75 L426.87,146.96 L427.25,147.16 L427.63,147.37 L428.02,147.57 L428.4,147.78 L428.78,147.99 L429.16,148.2 L429.54,148.4 L429.92,148.61 L430.3,148.82 L430.68,149.03 L431.06,149.24 L431.44,149.45 L431.82,149.66 L432.2,149.87 L432.58,150.08 L432.96,150.29 L433.34,150.5 L433.73,150.71 L434.11,150.92 L434.49,151.13 L434.87,151.34 L435.25,151.55 L435.63,151.76 L436.01,151.97 L436.39,152.18 L436.77,152.39 L437.15,152.6 L437.53,152.81 L437.91,153.02 L438.29,153.23 L438.67,153.44 L439.05,153.65 L439.44,153.85 L439.82,154.06 L440.2,154.27 L440.58,154.48 L440.96,154.69 L441.34,154.9 L441.72,155.11 L442.1,155.31 L442.48,155.52 L442.86,155.73 L443.24,155.94 L443.62,156.14 L444,156.35 L444.38,156.56 L444.76,156.76 L445.14,156.97 L445.53,157.17 L445.91,157.38 L446.29,157.58 L446.67,157.79 L447.05,157.99 L447.43,158.2 L447.81,158.4 L448.19,158.6 L448.57,158.81 L448.95,159.01 L449.33,159.21 L449.71,159.41 L450.09,159.61 L450.47,159.81 L450.85,160.01 L451.24,160.21 L451.62,160.41 L452,160.61 L452.38,160.81 L452.76,161.01 L453.14,161.2 L453.52,161.4 L453.9,161.6 L454.28,161.79 L454.66,161.99 L455.04,162.18 L455.42,162.38 L455.8,162.57 L456.18,162.76 L456.56,162.96 L456.95,163.15 L457.33,163.34 L457.71,163.53 L458.09,163.72 L458.47,163.91 L458.85,164.1 L459.23,164.29 L459.61,164.48 L459.99,164.67 L460.37,164.86 L460.75,165.04 L461.13,165.23 L461.51,165.42 L461.89,165.6 L462.27,165.79 L462.65,165.97 L463.04,166.15 L463.42,166.34 L463.8,166.52 L464.18,166.7 L464.56,166.88 L464.94,167.06 L465.32,167.24 L465.7,167.42 L466.08,167.6 L466.46,167.78 L466.84,167.96 L467.22,168.13 L467.6,168.31 L467.98,168.49 L468.36,168.66 L468.75,168.84 L469.13,169.01 L469.51,169.18 L469.89,169.36 L470.27,169.53 L470.65,169.7 L471.03,169.87 L471.41,170.04 L471.79,170.21 L472.17,170.38 L472.55,170.55 L472.93,170.72 L473.31,170.89 L473.69,171.05 L474.07,171.22 L474.46,171.39 L474.84,171.55 L475.22,171.72 L475.6,171.88 L475.98,172.04 L476.36,172.21 L476.74,172.37 L477.12,172.53 L477.5,172.69 L477.88,172.85 L478.26,173.01 L478.64,173.17 L479.02,173.33 L479.4,173.49 L479.78,173.64 L480.17,173.8 L480.55,173.96 L480.93,174.11 L481.31,174.27 L481.69,174.42 L482.07,174.57 L482.45,174.73 L482.83,174.88 L483.21,175.03 L483.59,175.18 L483.97,175.33 L484.35,175.48 L484.73,175.63 L485.11,175.78 L485.49,175.93 L485.87,176.08 L486.26,176.22 L486.64,176.37 L487.02,176.52 L487.4,176.66 L487.78,176.81 L488.16,176.95 L488.54,177.09 L488.92,177.24 L489.3,177.38 L489.68,177.52 L490.06,177.66 L490.44,177.8 L490.82,177.94 L491.2,178.08 L491.58,178.22 L491.97,178.36 L492.35,178.5 L492.73,178.64 L493.11,178.77 L493.49,178.91 L493.87,179.04 L494.25,179.18 L494.63,179.31 L495.01,179.45 L495.39,179.58 L495.77,179.71 L496.15,179.84 L496.53,179.98 L496.91,180.11 L497.29,180.24 L497.68,180.37 L498.06,180.5 L498.44,180.63 L498.82,180.75 L499.2,180.88 L499.58,181.01 L499.96,181.14 L500.34,181.26 L500.72,181.39 L501.1,181.51 L501.48,181.64 L501.86,181.76 L502.24,181.88 L502.62,182.01 L503,182.13 L503.38,182.25 L503.77,182.37 L504.15,182.49 L504.4,182.57" stroke-dasharray="3 3"/>
<path d="M314.2,212.2 L314.58,212.2 L314.96,212.2 L315.34,212.2 L315.72,212.2 L316.1,212.2 L316.48,212.2 L316.86,212.2 L317.25,212.2 L317.63,212.2 L318.01,212.2 L318.39,212.2 L318.77,212.2 L319.15,212.2 L319.53,212.2 L319.91,212.2 L320.29,212.2 L320.67,212.2 L321.05,212.19 L321.43,212.19 L321.81,212.19 L322.19,212.19 L322.57,212.19 L322.96,212.19 L323.34,212.19 L323.72,212.18 L324.1,212.18 L324.48,212.18 L324.86,212.18 L325.24,212.17 L325.62,212.17 L326,212.16 L326.38,212.16 L326.76,212.15 L327.14,212.15 L327.52,212.14 L327.9,212.14 L328.28,212.13 L328.66,212.12 L329.05,212.11 L329.43,212.11 L329.81,212.1 L330.19,212.09 L330.57,212.07 L330.95,212.06 L331.33,212.05 L331.71,212.04 L332.09,212.02 L332.47,212.01 L332.85,211.99 L333.23,211.97 L333.61,211.95 L333.99,211.93 L334.37,211.91 L334.76,211.89 L335.14,211.87 L335.52,211.84 L335.9,211.82 L336.28,211.79 L336.66,211.76 L337.04,211.73 L337.42,211.7 L337.8,211.67 L338.18,211.63 L338.56,211.6 L338.94,211.56 L339.32,211.52 L339.7,211.48 L340.08,211.44 L340.47,211.4 L340.85,211.35 L341.23,211.3 L341.61,211.26 L341.99,211.21 L342.37,211.15 L342.75,211.1 L343.13,211.05 L343.51,210.99 L343.89,210.93 L344.27,210.87 L344.65,210.81 L345.03,210.75 L345.41,210.68 L345.79,210.61 L346.17,210.54 L346.56,210.47 L346.94,210.4 L347.32,210.33 L347.7,210.25 L348.08,210.18 L348.46,210.1 L348.84,210.02 L349.22,209.94 L349.6,209.85 L349.98,209.77 L350.36,209.68 L350.74,209.59 L351.12,209.5 L351.5,209.41 L351.88,209.32 L352.27,209.22 L352.65,209.13 L353.03,209.03 L353.41,208.93 L353.79,208.83 L354.17,208.73 L354.55,208.63 L354.93,208.52 L355.31,208.42 L355.69,208.31 L356.07,208.2 L356.45,208.1 L356.83,207.99 L357.21,207.88 L357.59,207.76 L357.98,207.65 L358.36,207.54 L358.74,207.42 L359.12,207.31 L359.5,207.19 L359.88,207.07 L360.26,206.95 L360.64,206.83 L361.02,206.71 L361.4,206.59 L361.78,206.47 L362.16,206.35 L362.54,206.23 L362.92,206.1 L363.3,205.98 L363.68,205.86 L364.07,205.73 L364.45,205.61 L364.83,205.48 L365.21,205.35 L365.59,205.23 L365.97,205.1 L366.35,204.98 L366.73,204.85 L367.11,204.72 L367.49,204.59 L367.87,204.47 L368.25,204.34 L368.63,204.21 L369.01,204.08 L369.39,203.96 L369.78,203.83 L370.16,203.7 L370.54,203.58 L370.92,203.45 L371.3,203.32 L371.68,203.19 L372.06,203.07 L372.44,202.94 L372.82,202.82 L373.2,202.69 L373.58,202.57 L373.96,202.44 L374.34,202.32 L374.72,202.19 L375.1,202.07 L375.49,201.95 L375.87,201.82 L376.25,201.7 L376.63,201.58 L377.01,201.46 L377.39,201.34 L377.77,201.22 L378.15,201.1 L378.53,200.98 L378.91,200.86 L379.29,200.75 L379.67,200.63 L380.05,200.52 L380.43,200.4 L380.81,200.29 L381.2,200.17 L381.58,200.06 L381.96,199.95 L382.34,199.84 L382.72,199.72 L383.1,199.61 L383.48,199.51 L383.86,199.4 L384.24,199.29 L384.62,199.18 L385,199.08 L385.38,198.97 L385.76,198.87 L386.14,198.77 L386.52,198.67 L386.9,198.56 L387.29,198.46 L387.67,198.37 L388.05,198.27 L388.43,198.17 L388.81,198.08 L389.19,197.98 L389.57,197.89 L389.95,197.79 L390.33,197.7 L390.71,197.61 L391.09,197.52 L391.47,197.43 L391.85,197.35 L392.23,197.26 L392.61,197.17 L393,197.09 L393.38,197.01 L393.76,196.93 L394.14,196.84 L394.52,196.76 L394.9,196.69 L395.28,196.61 L395.66,196.53 L396.04,196.45 L396.42,196.38 L396.8,196.31 L397.18,196.23 L397.56,196.16 L397.94,196.09 L398.32,196.02 L398.71,195.96 L399.09,195.89 L399.47,195.82 L399.85,195.76 L400.23,195.69 L400.61,195.63 L400.99,195.57 L401.37,195.51 L401.75,195.45 L402.13,195.39 L402.51,195.33 L402.89,195.28 L403.27,195.22 L403.65,195.17 L404.03,195.12 L404.41,195.06 L404.8,195.01 L405.18,194.96 L405.56,194.91 L405.94,194.87 L406.32,194.82 L406.7,194.77 L407.08,194.73 L407.46,194.68 L407.84,194.64 L408.22,194.6 L408.6,194.56 L408.98,194.52 L409.36,194.48 L409.74,194.44 L410.12,194.4 L410.51,194.37 L410.89,194.33 L411.27,194.3 L411.65,194.27 L412.03,194.23 L412.41,194.2 L412.79,194.17 L413.17,194.14 L413.55,194.11 L413.93,194.09 L414.31,194.06 L414.69,194.03 L415.07,194.01 L415.45,193.98 L415.83,193.96 L416.22,193.94 L416.6,193.92 L416.98,193.9 L417.36,193.88 L417.74,193.86 L418.12,193.84 L418.5,193.82 L418.88,193.81 L419.26,193.79 L419.64,193.78 L420.02,193.76 L420.4,193.75 L420.78,193.74 L421.16,193.72 L421.54,193.71 L421.93,193.7 L422.31,193.69 L422.69,193.68 L423.07,193.68 L423.45,193.67 L423.83,193.66 L424.21,193.66 L424.59,193.65 L424.97,193.65 L425.35,193.64 L425.73,193.64 L426.11,193.64 L426.49,193.64 L426.87,193.63 L427.25,193.63 L427.63,193.63 L428.02,193.63 L428.4,193.64 L428.78,193.64 L429.16,193.64 L429.54,193.64 L429.92,193.65 L430.3,193.65 L430.68,193.66 L431.06,193.66 L431.44,193.67 L431.82,193.68 L432.2,193.68 L432.58,193.69 L432.96,193.7 L433.34,193.71 L433.73,193.72 L434.11,193.73 L434.49,193.74 L434.87,193.75 L435.25,193.76 L435.63,193.77 L436.01,193.79 L436.39,193.8 L436.77,193.81 L437.15,193.83 L437.53,193.84 L437.91,193.86 L438.29,193.87 L438.67,193.89 L439.05,193.9 L439.44,193.92 L439.82,193.94 L440.2,193.96 L440.58,193.97 L440.96,193.99 L441.34,194.01 L441.72,194.03 L442.1,194.05 L442.48,194.07 L442.86,194.09 L443.24,194.11 L443.62,194.13 L444,194.15 L444.38,194.18 L444.76,194.2 L445.14,194.22 L445.53,194.24 L445.91,194.27 L446.29,194.29 L446.67,194.32 L447.05,194.34 L447.43,194.36 L447.81,194.39 L448.19,194.41 L448.57,194.44 L448.95,194.47 L449.33,194.49 L449.71,194.52 L450.09,194.55 L450.47,194.57 L450.85,194.6 L451.24,194.63 L451.62,194.65 L452,194.68 L452.38,194.71 L452.76,194.74 L453.14,194.77 L453.52,194.8 L453.9,194.83 L454.28,194.86 L454.66,194.89 L455.04,194.92 L455.42,194.95 L455.8,194.98 L456.18,195.01 L456.56,195.04 L456.95,195.07 L457.33,195.1 L457.71,195.13 L458.09,195.16 L458.47,195.2 L458.85,195.23 L459.23,195.26 L459.61,195.29 L459.99,195.33 L460.37,195.36 L460.75,195.39 L461.13,195.42 L461.51,195.46 L461.89,195.49 L462.27,195.52 L462.65,195.56 L463.04,195.59 L463.42,195.63 L463.8,195.66 L464.18,195.69 L464.56,195.73 L464.94,195.76 L465.32,195.8 L465.7,195.83 L466.08,195.87 L466.46,195.9 L466.84,195.94 L467.22,195.97 L467.6,196.01 L467.98,196.04 L468.36,196.08 L468.75,196.11 L469.13,196.15 L469.51,196.19 L469.89,196.22 L470.27,196.26 L470.65,196.29 L471.03,196.33 L471.41,196.37 L471.79,196.4 L472.17,196.44 L472.55,196.47 L472.93,196.51 L473.31,196.55 L473.69,196.58 L474.07,196.62 L474.46,196.66 L474.84,196.69 L475.22,196.73 L475.6,196.77 L475.98,196.8 L476.36,196.84 L476.74,196.88 L477.12,196.92 L477.5,196.95 L477.88,196.99 L478.26,197.03 L478.64,197.06 L479.02,197.1 L479.4,197.14 L479.78,197.18 L480.17,197.21 L480.55,197.25 L480.93,197.29 L481.31,197.33 L481.69,197.36 L482.07,197.4 L482.45,197.44 L482.83,197.48 L483.21,197.51 L483.59,197.55 L483.97,197.59 L484.35,197.63 L484.73,197.66 L485.11,197.7 L485.49,197.74 L485.87,197.78 L486.26,197.81 L486.64,197.85 L487.02,197.89 L487.4,197.93 L487.78,197.96 L488.16,198 L488.54,198.04 L488.92,198.07 L489.3,198.11 L489.68,198.15 L490.06,198.19 L490.44,198.22 L490.82,198.26 L491.2,198.3 L491.58,198.34 L491.97,198.37 L492.35,198.41 L492.73,198.45 L493.11,198.49 L493.49,198.52 L493.87,198.56 L494.25,198.6 L494.63,198.63 L495.01,198.67 L495.39,198.71 L495.77,198.74 L496.15,198.78 L496.53,198.82 L496.91,198.86 L497.29,198.89 L497.68,198.93 L498.06,198.97 L498.44,199 L498.82,199.04 L499.2,199.08 L499.58,199.11 L499.96,199.15 L500.34,199.19 L500.72,199.22 L501.1,199.26 L501.48,199.29 L501.86,199.33 L502.24,199.37 L502.62,199.4 L503,199.44 L503.38,199.48 L503.77,199.51 L504.15,199.55 L504.4,199.57" stroke-dasharray="1 2"/>
</g>
<rect x="363.5" y="22" width="2" height="190.2" fill="#ff3cb4"/>
<g fill="none" stroke-width="2" stroke-linejoin="round" stroke-linecap="round">
<path d="M314.4,194.6 C317.07,194.08 324.33,192.5 330.4,191.5 C336.47,190.5 345.18,189.02 350.8,188.6 C356.42,188.18 359,188.52 364.1,189 C369.2,189.48 375.12,190.57 381.4,191.5 C387.68,192.43 395.37,193.65 401.8,194.6 C408.23,195.55 415.2,196.62 420,197.2 C424.8,197.78 423.73,197.52 430.6,198.1 C437.47,198.68 448.88,199.92 461.2,200.7 C473.52,201.48 497.28,202.45 504.5,202.8" stroke="#ff8418"/>
<path d="M314.4,169.6 C318.77,168.83 332.32,166.73 340.6,165 C348.88,163.27 357.3,160.97 364.1,159.2 C370.9,157.43 376.13,156.3 381.4,154.4 C386.67,152.5 391.27,150.22 395.7,147.8 C400.13,145.38 403.95,142.93 408,139.9 C412.05,136.87 416.67,132.17 420,129.6 C423.33,127.03 424.18,126.47 428,124.5 C431.82,122.53 437.7,119.37 442.9,117.8 C448.1,116.23 453.42,115.13 459.2,115.1 C464.98,115.07 472.5,116.07 477.6,117.6 C482.7,119.13 486.4,122.57 489.8,124.3 C493.2,126.03 495.55,127.25 498,128 C500.45,128.75 503.42,128.67 504.5,128.8" stroke="#00ea00"/>
<path d="M314.4,194.6 C315.7,193.92 319.53,192.17 322.2,190.5 C324.87,188.83 327.33,186.23 330.4,184.6 C333.47,182.97 337,181.67 340.6,180.7 C344.2,179.73 348.08,179.38 352,178.8 C355.92,178.22 357.5,178.02 364.1,177.2 C370.7,176.38 385.62,174.62 391.6,173.9 C397.58,173.18 395.2,173.2 400,172.9 C404.8,172.6 411.9,172.72 420.4,172.1 C428.9,171.48 440.73,170.17 451,169.2 C461.27,168.23 476.25,166.53 482,166.3 C487.75,166.07 483.5,167.22 485.5,167.8 C487.5,168.38 490.83,169.45 494,169.8 C497.17,170.15 502.75,169.88 504.5,169.9" stroke="#1464f0"/>
</g>
<path d="M315.22,212.2 v2 M315.22,22 v-2 M322.5,212.2 v4 M322.5,22 v-4 M329.78,212.2 v2 M329.78,22 v-2 M337.05,212.2 v2 M337.05,22 v-2 M344.33,212.2 v2 M344.33,22 v-2 M351.6,212.2 v2 M351.6,22 v-2 M358.88,212.2 v4 M358.88,22 v-4 M366.16,212.2 v2 M366.16,22 v-2 M373.43,212.2 v2 M373.43,22 v-2 M380.71,212.2 v2 M380.71,22 v-2 M387.98,212.2 v2 M387.98,22 v-2 M395.26,212.2 v4 M395.26,22 v-4 M402.54,212.2 v2 M402.54,22 v-2 M409.81,212.2 v2 M409.81,22 v-2 M417.09,212.2 v2 M417.09,22 v-2 M424.36,212.2 v2 M424.36,22 v-2 M431.64,212.2 v4 M431.64,22 v-4 M438.92,212.2 v2 M438.92,22 v-2 M446.19,212.2 v2 M446.19,22 v-2 M453.47,212.2 v2 M453.47,22 v-2 M460.74,212.2 v2 M460.74,22 v-2 M468.02,212.2 v4 M468.02,22 v-4 M475.3,212.2 v2 M475.3,22 v-2 M482.57,212.2 v2 M482.57,22 v-2 M489.85,212.2 v2 M489.85,22 v-2 M497.12,212.2 v2 M497.12,22 v-2 M504.4,212.2 v4 M504.4,22 v-4 M314.2,212.2 h-4 M314.2,202.69 h-2 M314.2,193.18 h-2 M314.2,183.67 h-2 M314.2,174.16 h-2 M314.2,164.65 h-2 M314.2,155.14 h-2 M314.2,145.63 h-2 M314.2,136.12 h-2 M314.2,126.61 h-2 M314.2,117.1 h-4 M314.2,107.59 h-2 M314.2,98.08 h-2 M314.2,88.57 h-2 M314.2,79.06 h-2 M314.2,69.55 h-2 M314.2,60.04 h-2 M314.2,50.53 h-2 M314.2,41.02 h-2 M314.2,31.51 h-2 M314.2,22 h-4 M504.6,212.2 h4 M504.6,202.69 h2 M504.6,193.18 h2 M504.6,183.67 h2 M504.6,174.16 h4 M504.6,164.65 h2 M504.6,155.14 h2 M504.6,145.63 h2 M504.6,136.12 h4 M504.6,126.61 h2 M504.6,117.1 h2 M504.6,107.59 h2 M504.6,98.08 h4 M504.6,88.57 h2 M504.6,79.06 h2 M504.6,69.55 h2 M504.6,60.04 h4 M504.6,50.53 h2 M504.6,41.02 h2 M504.6,31.51 h2 M504.6,22 h4 " stroke="#333" stroke-width="1" fill="none"/>
<rect x="314.2" y="22" width="190.4" height="190.2" fill="none" stroke="#333" stroke-width="1"/>
<text x="308.7" y="214.8" text-anchor="end" style="font-size:7.8px;fill:#222;stroke:#222;stroke-width:0.15px">0</text>
<text x="308.7" y="119.7" text-anchor="end" style="font-size:7.8px;fill:#222;stroke:#222;stroke-width:0.15px">50</text>
<text x="308.7" y="24.6" text-anchor="end" style="font-size:7.8px;fill:#222;stroke:#222;stroke-width:0.15px">100</text>
<text x="509.6" y="214.8" style="font-size:7.8px;fill:#222;stroke:#222;stroke-width:0.15px">0</text>
<text x="509.6" y="176.76" style="font-size:7.8px;fill:#222;stroke:#222;stroke-width:0.15px">0.02</text>
<text x="509.6" y="138.72" style="font-size:7.8px;fill:#222;stroke:#222;stroke-width:0.15px">0.04</text>
<text x="509.6" y="100.68" style="font-size:7.8px;fill:#222;stroke:#222;stroke-width:0.15px">0.06</text>
<text x="509.6" y="62.64" style="font-size:7.8px;fill:#222;stroke:#222;stroke-width:0.15px">0.08</text>
<text x="509.6" y="24.6" style="font-size:7.8px;fill:#222;stroke:#222;stroke-width:0.15px">0.1</text>
<text x="323.2" y="223.9" text-anchor="middle" style="font-size:7.8px;fill:#222;stroke:#222;stroke-width:0.15px">500</text>
<text x="359.58" y="223.9" text-anchor="middle" style="font-size:7.8px;fill:#222;stroke:#222;stroke-width:0.15px">1000</text>
<text x="395.96" y="223.9" text-anchor="middle" style="font-size:7.8px;fill:#222;stroke:#222;stroke-width:0.15px">1500</text>
<text x="432.34" y="223.9" text-anchor="middle" style="font-size:7.8px;fill:#222;stroke:#222;stroke-width:0.15px">2000</text>
<text x="468.72" y="223.9" text-anchor="middle" style="font-size:7.8px;fill:#222;stroke:#222;stroke-width:0.15px">2500</text>
<text x="505.1" y="223.9" text-anchor="middle" style="font-size:7.8px;fill:#222;stroke:#222;stroke-width:0.15px">3000</text>
<text x="413.2" y="234.5" text-anchor="middle" style="font-size:9.15px;fill:#222;stroke:#222;stroke-width:0.15px">Wavelength, nm</text>
<text transform="translate(295.3,112) rotate(-90)" text-anchor="middle" style="font-size:9.3px;fill:#222;stroke:#222;stroke-width:0.15px">Intensity, W m<tspan dy="-5.3" style="font-size:5.6px">−2</tspan><tspan dy="5.3"> nm</tspan><tspan dy="-5.3" style="font-size:5.6px">−1</tspan></text>
<text transform="translate(530.6,120) rotate(90)" text-anchor="middle" style="font-size:9.15px;fill:#222;stroke:#222;stroke-width:0.15px">mean free path, µm</text>
<text x="315.1" y="16" style="font-size:7.2px;fill:#9a9a9a;stroke:#9a9a9a;stroke-width:0.15px">visible</text>
<rect x="323.9" y="24.1" width="13.7" height="2.6" fill="#a800d8"/>
<text style="font-size:6.3px;fill:#b530e6;stroke:#b530e6;stroke-width:0.35px"><tspan x="321.2" y="35.2">detector</tspan><tspan x="321.2" y="41.6">range</tspan></text>
<text x="367.8" y="56.9" style="font-size:6.6px;fill:#ff3cb4;stroke:#ff3cb4;stroke-width:0.35px">laser</text>
<text x="400.4" y="42.3" style="font-size:6.5px;fill:#222;stroke:#222;stroke-width:0.15px">2400 K</text>
<text x="383.3" y="83.8" style="font-size:6.5px;fill:#222;stroke:#222;stroke-width:0.15px">2200 K</text>
<text x="375.7" y="128" style="font-size:6.5px;fill:#222;stroke:#222;stroke-width:0.15px">2000 K</text>
<text x="438.8" y="189.3" style="font-size:6.5px;fill:#222;stroke:#222;stroke-width:0.15px">1500 K</text>
<text x="419.6" y="69.6" style="font-size:7.8px;fill:#222;stroke:#222;stroke-width:0.15px">Planck curves</text>
<text x="491.6" y="37.6" style="font-size:15px;fill:#111;stroke:#111;stroke-width:0.15px">b</text>
<text style="font-size:9.2px;font-weight:bold;fill:#10e010"><tspan x="468" y="88.4">Pt</tspan><tspan x="468" y="99.4">mfp</tspan><tspan x="468" y="110.5">298 K</tspan></text>
<text x="402.6" y="165.7" style="font-size:7.6px;font-weight:bold;fill:#1a6cff">Fe</text>
<text x="384.6" y="186.7" style="font-size:8.7px;font-weight:bold;fill:#ff8418">Ir</text>
</svg></div></body></html>
